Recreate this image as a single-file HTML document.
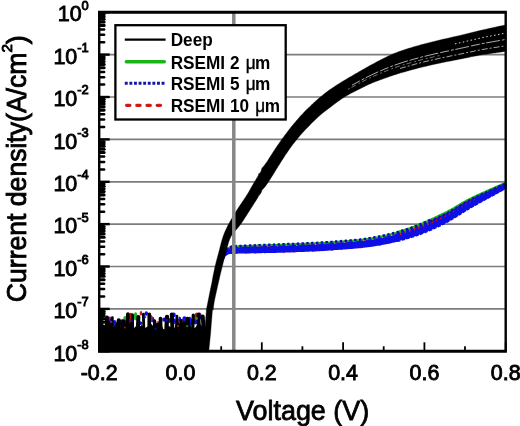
<!DOCTYPE html>
<html><head><meta charset="utf-8"><title>Current density vs Voltage</title>
<style>html,body{margin:0;padding:0;background:#fff}svg{display:block}text{font-family:"Liberation Sans",Arial,sans-serif;fill:#000}</style></head>
<body>
<svg width="520" height="426" viewBox="0 0 520 426">
<rect width="520" height="426" fill="#fff"/>
<line x1="99.2" x2="505.7" y1="54.6" y2="54.6" stroke="#7c7c7c" stroke-width="1.7"/>
<line x1="99.2" x2="505.7" y1="97.0" y2="97.0" stroke="#7c7c7c" stroke-width="1.7"/>
<line x1="99.2" x2="505.7" y1="139.4" y2="139.4" stroke="#7c7c7c" stroke-width="1.7"/>
<line x1="99.2" x2="505.7" y1="181.8" y2="181.8" stroke="#7c7c7c" stroke-width="1.7"/>
<line x1="99.2" x2="505.7" y1="224.1" y2="224.1" stroke="#7c7c7c" stroke-width="1.7"/>
<line x1="99.2" x2="505.7" y1="266.5" y2="266.5" stroke="#7c7c7c" stroke-width="1.7"/>
<line x1="99.2" x2="505.7" y1="308.9" y2="308.9" stroke="#7c7c7c" stroke-width="1.7"/>
<g stroke-linejoin="round" stroke-linecap="butt">
<polyline points="212.0,298.2 212.5,295.8 213.0,293.3 213.5,290.9 214.0,288.4 214.5,286.0 215.0,283.5 215.5,281.1 216.0,278.6 216.5,276.2 217.0,274.2 217.5,272.2 218.0,270.2 218.5,268.2 219.0,266.2 219.5,264.2 220.0,262.7 220.5,261.2 221.0,259.7 221.5,258.2 222.0,256.7 222.5,255.7 223.0,254.7 223.5,253.7 224.0,252.7 224.5,251.6 225.0,251.2 225.5,250.7 226.0,250.2 226.5,249.7 227.0,249.2 227.5,248.7 228.0,248.3 228.5,248.1 229.0,247.9 229.5,247.8 230.0,247.6 230.5,247.4 231.0,247.3 231.5,247.1 232.0,246.9 232.5,246.8 233.0,246.7 233.5,246.7 234.0,246.7 234.5,246.6 235.0,246.6 235.5,246.6 236.0,246.6 236.5,246.5 237.0,246.5 237.5,246.5 238.0,246.5 238.5,246.4 239.0,246.4 239.5,246.4 240.0,246.3 241.0,246.3 242.0,246.3 243.0,246.2 244.0,246.2 245.0,246.2 246.0,246.1 247.0,246.1 248.0,246.1 249.0,246.0 250.0,246.0 251.0,245.9 252.0,245.9 253.0,245.9 254.0,245.8 255.0,245.8 256.0,245.8 257.0,245.7 258.0,245.7 259.0,245.7 260.0,245.6 261.0,245.6 262.0,245.5 263.0,245.5 264.0,245.5 265.0,245.4 266.0,245.4 267.0,245.4 268.0,245.3 269.0,245.3 270.0,245.3 271.0,245.2 272.0,245.2 273.0,245.1 274.0,245.1 275.0,245.1 276.0,245.0 277.0,245.0 278.0,245.0 279.0,244.9 280.0,244.9 281.0,244.8 282.0,244.8 283.0,244.8 284.0,244.7 285.0,244.7 286.0,244.6 287.0,244.6 288.0,244.6 289.0,244.5 290.0,244.5 291.0,244.4 292.0,244.4 293.0,244.4 294.0,244.3 295.0,244.3 296.0,244.2 297.0,244.2 298.0,244.2 299.0,244.1 300.0,244.1 301.0,244.0 302.0,244.0 303.0,243.9 304.0,243.9 305.0,243.9 306.0,243.8 307.0,243.8 308.0,243.7 309.0,243.7 310.0,243.7 311.0,243.6 312.0,243.6 313.0,243.5 314.0,243.5 315.0,243.4 316.0,243.4 317.0,243.3 318.0,243.3 319.0,243.2 320.0,243.2 321.0,243.1 322.0,243.0 323.0,243.0 324.0,242.9 325.0,242.9 326.0,242.8 327.0,242.7 328.0,242.6 329.0,242.6 330.0,242.5 331.0,242.4 332.0,242.3 333.0,242.3 334.0,242.2 335.0,242.1 336.0,242.0 337.0,242.0 338.0,241.9 339.0,241.8 340.0,241.7 341.0,241.7 342.0,241.6 343.0,241.5 344.0,241.4 345.0,241.4 346.0,241.3 347.0,241.2 348.0,241.1 349.0,241.1 350.0,241.0 351.0,240.9 352.0,240.8 353.0,240.7 354.0,240.6 355.0,240.6 356.0,240.5 357.0,240.4 358.0,240.3 359.0,240.1 360.0,240.0 361.0,239.9 362.0,239.8 363.0,239.7 364.0,239.5 365.0,239.4 366.0,239.3 367.0,239.1 368.0,239.0 369.0,238.8 370.0,238.7 371.0,238.5 372.0,238.3 373.0,238.2 374.0,238.0 375.0,237.8 376.0,237.6 377.0,237.5 378.0,237.3 379.0,237.1 380.0,236.9 381.0,236.7 382.0,236.5 383.0,236.2 384.0,236.0 385.0,235.8 386.0,235.6 387.0,235.3 388.0,235.1 389.0,234.9 390.0,234.6 391.0,234.4 392.0,234.1 393.0,233.8 394.0,233.6 395.0,233.3 396.0,233.0 397.0,232.8 398.0,232.5 399.0,232.2 400.0,231.9 401.0,231.6 402.0,231.3 403.0,231.0 404.0,230.7 405.0,230.4 406.0,230.1 407.0,229.8 408.0,229.5 409.0,229.1 410.0,228.8 411.0,228.4 412.0,228.1 413.0,227.7 414.0,227.3 415.0,227.0 416.0,226.6 417.0,226.2 418.0,225.8 419.0,225.4 420.0,225.0 421.0,224.6 422.0,224.2 423.0,223.8 424.0,223.3 425.0,222.9 426.0,222.4 427.0,222.0 428.0,221.5 429.0,221.0 430.0,220.6 431.0,220.1 432.0,219.6 433.0,219.2 434.0,218.7 435.0,218.2 436.0,217.7 437.0,217.3 438.0,216.8 439.0,216.3 440.0,215.8 441.0,215.4 442.0,214.9 443.0,214.4 444.0,213.9 445.0,213.5 446.0,213.0 447.0,212.5 448.0,211.9 449.0,211.4 450.0,210.9 451.0,210.3 452.0,209.8 453.0,209.2 454.0,208.7 455.0,208.1 456.0,207.5 457.0,206.9 458.0,206.3 459.0,205.7 460.0,205.1 461.0,204.4 462.0,203.9 463.0,203.3 464.0,202.7 465.0,202.1 466.0,201.6 467.0,201.0 468.0,200.5 469.0,199.9 470.0,199.4 471.0,198.9 472.0,198.4 473.0,197.9 474.0,197.4 475.0,196.9 476.0,196.5 477.0,196.0 478.0,195.6 479.0,195.1 480.0,194.6 481.0,194.2 482.0,193.7 483.0,193.3 484.0,192.8 485.0,192.4 486.0,191.9 487.0,191.5 488.0,191.0 489.0,190.6 490.0,190.1 491.0,189.7 492.0,189.2 493.0,188.8 494.0,188.4 495.0,187.9 496.0,187.5 497.0,187.0 498.0,186.6 499.0,186.1 500.0,185.7 501.0,185.3 502.0,184.8 503.0,184.4 504.0,183.9 505.0,183.5 506.0,183.0" fill="none" stroke="#19b519" stroke-width="2.2" />
<polyline points="226.0,251.3 226.5,250.9 227.0,250.4 227.5,250.0 228.0,249.6 228.5,249.4 229.0,249.3 229.5,249.2 230.0,249.0 230.5,248.9 231.0,248.8 231.5,248.7 232.0,248.5 232.5,248.4 233.0,248.3 233.5,248.3 234.0,248.3 234.5,248.2 235.0,248.2 235.5,248.2 236.0,248.2 236.5,248.2 237.0,248.1 237.5,248.1 238.0,248.1 238.5,248.1 239.0,248.0 239.5,248.0 240.0,248.0 241.0,248.0 242.0,247.9 243.0,247.9 244.0,247.9 245.0,247.8 246.0,247.8 247.0,247.8 248.0,247.7 249.0,247.7 250.0,247.7 251.0,247.6 252.0,247.6 253.0,247.6 254.0,247.5 255.0,247.5 256.0,247.5 257.0,247.5 258.0,247.4 259.0,247.4 260.0,247.4 261.0,247.3 262.0,247.3 263.0,247.3 264.0,247.2 265.0,247.2 266.0,247.2 267.0,247.1 268.0,247.1 269.0,247.1 270.0,247.0 271.0,247.0 272.0,247.0 273.0,246.9 274.0,246.9 275.0,246.9 276.0,246.8 277.0,246.8 278.0,246.8 279.0,246.7 280.0,246.7 281.0,246.7 282.0,246.6 283.0,246.6 284.0,246.6 285.0,246.5 286.0,246.5 287.0,246.4 288.0,246.4 289.0,246.4 290.0,246.3 291.0,246.3 292.0,246.2 293.0,246.2 294.0,246.2 295.0,246.1 296.0,246.1 297.0,246.0 298.0,246.0 299.0,246.0 300.0,245.9 301.0,245.9 302.0,245.8 303.0,245.8 304.0,245.8 305.0,245.7 306.0,245.7 307.0,245.6 308.0,245.6 309.0,245.6 310.0,245.5 311.0,245.5 312.0,245.4 313.0,245.4 314.0,245.3 315.0,245.3 316.0,245.2 317.0,245.2 318.0,245.1 319.0,245.1 320.0,245.0 321.0,245.0 322.0,244.9 323.0,244.8 324.0,244.8 325.0,244.7 326.0,244.6 327.0,244.6 328.0,244.5 329.0,244.4 330.0,244.4 331.0,244.3 332.0,244.2 333.0,244.1 334.0,244.1 335.0,244.0 336.0,243.9 337.0,243.8 338.0,243.8 339.0,243.7 340.0,243.6 341.0,243.5 342.0,243.5 343.0,243.4 344.0,243.3 345.0,243.2 346.0,243.2 347.0,243.1 348.0,243.0 349.0,242.9 350.0,242.9 351.0,242.8 352.0,242.7 353.0,242.6 354.0,242.5 355.0,242.4 356.0,242.3 357.0,242.2 358.0,242.1 359.0,242.0 360.0,241.9 361.0,241.8 362.0,241.7 363.0,241.6 364.0,241.4 365.0,241.3 366.0,241.2 367.0,241.0 368.0,240.9 369.0,240.7 370.0,240.6 371.0,240.4 372.0,240.3 373.0,240.1 374.0,240.0 375.0,239.8 376.0,239.6 377.0,239.4 378.0,239.3 379.0,239.1 380.0,238.9 381.0,238.7 382.0,238.5 383.0,238.3 384.0,238.1 385.0,237.8 386.0,237.6 387.0,237.4 388.0,237.2 389.0,236.9 390.0,236.7 391.0,236.4 392.0,236.2 393.0,235.9 394.0,235.7 395.0,235.4 396.0,235.2 397.0,234.9 398.0,234.6" fill="none" stroke="#d01818" stroke-width="2.0" stroke-dasharray="3.2 1.6"/>
<polyline points="397.0,235.1 398.0,234.9 399.0,234.6 400.0,234.3 401.0,234.0 402.0,233.7 403.0,233.4 404.0,233.2 405.0,232.9 406.0,232.5 407.0,232.2 408.0,231.9 409.0,231.6 410.0,231.3 411.0,230.9 412.0,230.6 413.0,230.2 414.0,229.9 415.0,229.5 416.0,229.1 417.0,228.8 418.0,228.4 419.0,228.0 420.0,227.6 421.0,227.2 422.0,226.8 423.0,226.4 424.0,225.9 425.0,225.5 426.0,225.1 427.0,224.6 428.0,224.2 429.0,223.7 430.0,223.3 431.0,222.8 432.0,222.3 433.0,221.9 434.0,221.4 435.0,220.9 436.0,220.5 437.0,220.0 438.0,219.5 439.0,219.0 440.0,218.6 441.0,218.1 442.0,217.6 443.0,217.1 444.0,216.7 445.0,216.1 446.0,215.6 447.0,215.1 448.0,214.6 449.0,214.1 450.0,213.5 451.0,213.0 452.0,212.4 453.0,211.8 454.0,211.3 455.0,210.7 456.0,210.1 457.0,209.5 458.0,208.8 459.0,208.2 460.0,207.6 461.0,207.0 462.0,206.4 463.0,205.8 464.0,205.2 465.0,204.6 466.0,204.0 467.0,203.5 468.0,202.9 469.0,202.4 470.0,201.8 471.0,201.3 472.0,200.7 473.0,200.2 474.0,199.7 475.0,199.2 476.0,198.7 477.0,198.2 478.0,197.7 479.0,197.3 480.0,196.8 481.0,196.3 482.0,195.8 483.0,195.3 484.0,194.8 485.0,194.4 486.0,193.9 487.0,193.4 488.0,192.9 489.0,192.5 490.0,192.0 491.0,191.5 492.0,191.0 493.0,190.6 494.0,190.1 495.0,189.6 496.0,189.1 497.0,188.7 498.0,188.2 499.0,187.7 500.0,187.3 501.0,186.8 502.0,186.3 503.0,185.8 504.0,185.4 505.0,184.9 506.0,184.4" fill="none" stroke="#d01818" stroke-width="4.2" />
<polyline points="226.0,254.7 226.5,254.4 227.0,254.1 227.5,253.7 228.0,253.4 228.5,253.4 229.0,253.4 229.5,253.3 230.0,253.3 230.5,253.3 231.0,253.3 231.5,253.3 232.0,253.2 232.5,253.1 233.0,253.1 233.5,253.0 234.0,253.0 234.5,253.0 235.0,253.0 235.5,253.0 236.0,253.0 236.5,252.9 237.0,252.9 237.5,252.9 238.0,252.9 238.5,252.9 239.0,252.9 239.5,252.8 240.0,252.8 241.0,252.8 242.0,252.8 243.0,252.8 244.0,252.8 245.0,252.7 246.0,252.7 247.0,252.7 248.0,252.7 249.0,252.7 250.0,252.7 251.0,252.6 252.0,252.6 253.0,252.6 254.0,252.6 255.0,252.6 256.0,252.6 257.0,252.5 258.0,252.5 259.0,252.5 260.0,252.5 261.0,252.5 262.0,252.5 263.0,252.4 264.0,252.4 265.0,252.4 266.0,252.4 267.0,252.4 268.0,252.4 269.0,252.3 270.0,252.3 271.0,252.3 272.0,252.3 273.0,252.3 274.0,252.2 275.0,252.2 276.0,252.2 277.0,252.2 278.0,252.2 279.0,252.1 280.0,252.1 281.0,252.1 282.0,252.0 283.0,252.0 284.0,252.0 285.0,251.9 286.0,251.9 287.0,251.9 288.0,251.8 289.0,251.8 290.0,251.8 291.0,251.7 292.0,251.7 293.0,251.6 294.0,251.6 295.0,251.6 296.0,251.5 297.0,251.5 298.0,251.5 299.0,251.4 300.0,251.4 301.0,251.3 302.0,251.3 303.0,251.3 304.0,251.2 305.0,251.2 306.0,251.1 307.0,251.1 308.0,251.1 309.0,251.0 310.0,251.0 311.0,250.9 312.0,250.9 313.0,250.9 314.0,250.8 315.0,250.8 316.0,250.7 317.0,250.7 318.0,250.6 319.0,250.6 320.0,250.5 321.0,250.5 322.0,250.4 323.0,250.3 324.0,250.3 325.0,250.2 326.0,250.1 327.0,250.1 328.0,250.0 329.0,249.9 330.0,249.9 331.0,249.8 332.0,249.7 333.0,249.6 334.0,249.6 335.0,249.5 336.0,249.4 337.0,249.3 338.0,249.3 339.0,249.2 340.0,249.1 341.0,249.0 342.0,249.0 343.0,248.9 344.0,248.8 345.0,248.8 346.0,248.7 347.0,248.6 348.0,248.5 349.0,248.5 350.0,248.4 351.0,248.3 352.0,248.2 353.0,248.2 354.0,248.1 355.0,248.0 356.0,247.9 357.0,247.8 358.0,247.7 359.0,247.6 360.0,247.5 361.0,247.4 362.0,247.3 363.0,247.2 364.0,247.1 365.0,247.0 366.0,246.8 367.0,246.7 368.0,246.6 369.0,246.5 370.0,246.3 371.0,246.2 372.0,246.1 373.0,245.9 374.0,245.8 375.0,245.6 376.0,245.5 377.0,245.3 378.0,245.1 379.0,245.0 380.0,244.8 381.0,244.6 382.0,244.4 383.0,244.3 384.0,244.1 385.0,243.9 386.0,243.7 387.0,243.5 388.0,243.3 389.0,243.0 390.0,242.8 391.0,242.6 392.0,242.4 393.0,242.2 394.0,241.9 395.0,241.7 396.0,241.5 397.0,241.2 398.0,241.0 399.0,240.7 400.0,240.5" fill="none" stroke="#d01818" stroke-width="1.6" stroke-dasharray="2 7.6"/>
<polyline points="212.0,299.6 212.5,297.2 213.0,294.7 213.5,292.3 214.0,289.8 214.5,287.4 215.0,284.9 215.5,282.5 216.0,280.0 216.5,277.6 217.0,275.6 217.5,273.6 218.0,271.6 218.5,269.6 219.0,267.6 219.5,265.6 220.0,264.1 220.5,262.6 221.0,261.1 221.5,259.6 222.0,258.1 222.5,257.1 223.0,256.1 223.5,255.1 224.0,254.1 224.5,253.1 225.0,252.7 225.5,252.2 226.0,251.8 226.5,251.4 227.0,250.9 227.5,250.5 228.0,250.1 228.5,250.0 229.0,249.8 229.5,249.7 230.0,249.6 230.5,249.5 231.0,249.4 231.5,249.3 232.0,249.2 232.5,249.1 233.0,249.0 233.5,248.9 234.0,248.9 234.5,248.9 235.0,248.9 235.5,248.8 236.0,248.8 236.5,248.8 237.0,248.8 237.5,248.8 238.0,248.7 238.5,248.7 239.0,248.7 239.5,248.7 240.0,248.6 241.0,248.6 242.0,248.6 243.0,248.6 244.0,248.5 245.0,248.5 246.0,248.5 247.0,248.4 248.0,248.4 249.0,248.4 250.0,248.3 251.0,248.3 252.0,248.3 253.0,248.3 254.0,248.2 255.0,248.2 256.0,248.2 257.0,248.1 258.0,248.1 259.0,248.1 260.0,248.1 261.0,248.0 262.0,248.0 263.0,248.0 264.0,247.9 265.0,247.9 266.0,247.9 267.0,247.8 268.0,247.8 269.0,247.8 270.0,247.8 271.0,247.7 272.0,247.7 273.0,247.7 274.0,247.6 275.0,247.6 276.0,247.6 277.0,247.5 278.0,247.5 279.0,247.5 280.0,247.4 281.0,247.4 282.0,247.4 283.0,247.3 284.0,247.3 285.0,247.3 286.0,247.2 287.0,247.2 288.0,247.1 289.0,247.1 290.0,247.1 291.0,247.0 292.0,247.0 293.0,246.9 294.0,246.9 295.0,246.9 296.0,246.8 297.0,246.8 298.0,246.7 299.0,246.7 300.0,246.7 301.0,246.6 302.0,246.6 303.0,246.5 304.0,246.5 305.0,246.5 306.0,246.4 307.0,246.4 308.0,246.3 309.0,246.3 310.0,246.3 311.0,246.2 312.0,246.2 313.0,246.1 314.0,246.1 315.0,246.0 316.0,246.0 317.0,245.9 318.0,245.9 319.0,245.8 320.0,245.8 321.0,245.7 322.0,245.7 323.0,245.6 324.0,245.5 325.0,245.5 326.0,245.4 327.0,245.3 328.0,245.3 329.0,245.2 330.0,245.1 331.0,245.0 332.0,245.0 333.0,244.9 334.0,244.8 335.0,244.7 336.0,244.7 337.0,244.6 338.0,244.5 339.0,244.4 340.0,244.4 341.0,244.3 342.0,244.2 343.0,244.1 344.0,244.1 345.0,244.0 346.0,243.9 347.0,243.8 348.0,243.8 349.0,243.7 350.0,243.6 351.0,243.5 352.0,243.4 353.0,243.4 354.0,243.3 355.0,243.2 356.0,243.1 357.0,243.0 358.0,242.9 359.0,242.8 360.0,242.7 361.0,242.6 362.0,242.4 363.0,242.3 364.0,242.2 365.0,242.1 366.0,241.9 367.0,241.8 368.0,241.7 369.0,241.5 370.0,241.4 371.0,241.2 372.0,241.1 373.0,240.9 374.0,240.8 375.0,240.6 376.0,240.4 377.0,240.2 378.0,240.1 379.0,239.9 380.0,239.7 381.0,239.5 382.0,239.3 383.0,239.1 384.0,238.9 385.0,238.7 386.0,238.4 387.0,238.2 388.0,238.0 389.0,237.8 390.0,237.5 391.0,237.3 392.0,237.0 393.0,236.8 394.0,236.5 395.0,236.3 396.0,236.0 397.0,235.8 398.0,235.5" fill="none" stroke="#0e0ee6" stroke-width="2.6" />
<polyline points="212.0,300.4 212.5,298.0 213.0,295.5 213.5,293.1 214.0,290.6 214.5,288.2 215.0,285.7 215.5,283.3 216.0,280.8 216.5,278.4 217.0,276.4 217.5,274.4 218.0,272.4 218.5,270.4 219.0,268.4 219.5,266.4 220.0,264.9 220.5,263.4 221.0,261.9 221.5,260.4 222.0,258.9 222.5,257.9 223.0,256.9 223.5,255.9 224.0,254.9 224.5,253.9 225.0,253.5 225.5,253.1 226.0,252.7 226.5,252.3 227.0,251.9 227.5,251.5 228.0,251.1 228.5,251.0 229.0,251.0 229.5,250.9 230.0,250.8 230.5,250.7 231.0,250.6 231.5,250.5 232.0,250.4 232.5,250.3 233.0,250.2 233.5,250.2 234.0,250.2 234.5,250.2 235.0,250.2 235.5,250.1 236.0,250.1 236.5,250.1 237.0,250.1 237.5,250.1 238.0,250.0 238.5,250.0 239.0,250.0 239.5,250.0 240.0,250.0 241.0,249.9 242.0,249.9 243.0,249.9 244.0,249.9 245.0,249.8 246.0,249.8 247.0,249.8 248.0,249.8 249.0,249.7 250.0,249.7 251.0,249.7 252.0,249.7 253.0,249.6 254.0,249.6 255.0,249.6 256.0,249.5 257.0,249.5 258.0,249.5 259.0,249.5 260.0,249.4 261.0,249.4 262.0,249.4 263.0,249.4 264.0,249.3 265.0,249.3 266.0,249.3 267.0,249.3 268.0,249.2 269.0,249.2 270.0,249.2 271.0,249.2 272.0,249.1 273.0,249.1 274.0,249.1 275.0,249.1 276.0,249.0 277.0,249.0 278.0,249.0 279.0,248.9 280.0,248.9 281.0,248.9 282.0,248.8 283.0,248.8 284.0,248.8 285.0,248.7 286.0,248.7 287.0,248.7 288.0,248.6 289.0,248.6 290.0,248.5 291.0,248.5 292.0,248.5 293.0,248.4 294.0,248.4 295.0,248.3 296.0,248.3 297.0,248.3 298.0,248.2 299.0,248.2 300.0,248.1 301.0,248.1 302.0,248.1 303.0,248.0 304.0,248.0 305.0,247.9 306.0,247.9 307.0,247.9 308.0,247.8 309.0,247.8 310.0,247.7 311.0,247.7 312.0,247.7 313.0,247.6 314.0,247.6 315.0,247.5 316.0,247.5 317.0,247.4 318.0,247.4 319.0,247.3 320.0,247.3 321.0,247.2 322.0,247.1 323.0,247.1 324.0,247.0 325.0,247.0 326.0,246.9 327.0,246.8 328.0,246.7 329.0,246.7 330.0,246.6 331.0,246.5 332.0,246.4 333.0,246.4 334.0,246.3 335.0,246.2 336.0,246.1 337.0,246.1 338.0,246.0 339.0,245.9 340.0,245.8 341.0,245.8 342.0,245.7 343.0,245.6 344.0,245.5 345.0,245.5 346.0,245.4 347.0,245.3 348.0,245.2 349.0,245.2 350.0,245.1 351.0,245.0 352.0,244.9 353.0,244.9 354.0,244.8 355.0,244.7 356.0,244.6 357.0,244.5 358.0,244.4 359.0,244.3 360.0,244.2 361.0,244.1 362.0,244.0 363.0,243.8 364.0,243.7 365.0,243.6 366.0,243.5 367.0,243.3 368.0,243.2 369.0,243.1 370.0,242.9 371.0,242.8 372.0,242.6 373.0,242.5 374.0,242.3 375.0,242.2 376.0,242.0 377.0,241.8 378.0,241.7 379.0,241.5 380.0,241.3 381.0,241.1 382.0,240.9 383.0,240.7 384.0,240.5 385.0,240.3 386.0,240.1 387.0,239.9 388.0,239.6 389.0,239.4 390.0,239.2 391.0,239.0 392.0,238.7 393.0,238.5 394.0,238.2 395.0,238.0 396.0,237.7 397.0,237.5 398.0,237.2" fill="none" stroke="#0e0ee6" stroke-width="2.6" />
<polyline points="212.0,301.2 212.5,298.8 213.0,296.3 213.5,293.9 214.0,291.4 214.5,289.0 215.0,286.5 215.5,284.1 216.0,281.6 216.5,279.2 217.0,277.2 217.5,275.2 218.0,273.2 218.5,271.2 219.0,269.2 219.5,267.2 220.0,265.7 220.5,264.2 221.0,262.7 221.5,261.2 222.0,259.7 222.5,258.7 223.0,257.7 223.5,256.7 224.0,255.7 224.5,254.7 225.0,254.4 225.5,254.0 226.0,253.6 226.5,253.3 227.0,252.9 227.5,252.5 228.0,252.2 228.5,252.1 229.0,252.1 229.5,252.0 230.0,251.9 230.5,251.9 231.0,251.8 231.5,251.8 232.0,251.7 232.5,251.6 233.0,251.5 233.5,251.5 234.0,251.5 234.5,251.5 235.0,251.5 235.5,251.4 236.0,251.4 236.5,251.4 237.0,251.4 237.5,251.4 238.0,251.3 238.5,251.3 239.0,251.3 239.5,251.3 240.0,251.3 241.0,251.2 242.0,251.2 243.0,251.2 244.0,251.2 245.0,251.2 246.0,251.1 247.0,251.1 248.0,251.1 249.0,251.1 250.0,251.1 251.0,251.0 252.0,251.0 253.0,251.0 254.0,251.0 255.0,250.9 256.0,250.9 257.0,250.9 258.0,250.9 259.0,250.9 260.0,250.8 261.0,250.8 262.0,250.8 263.0,250.8 264.0,250.8 265.0,250.7 266.0,250.7 267.0,250.7 268.0,250.7 269.0,250.6 270.0,250.6 271.0,250.6 272.0,250.6 273.0,250.6 274.0,250.5 275.0,250.5 276.0,250.5 277.0,250.5 278.0,250.4 279.0,250.4 280.0,250.4 281.0,250.3 282.0,250.3 283.0,250.3 284.0,250.2 285.0,250.2 286.0,250.2 287.0,250.1 288.0,250.1 289.0,250.1 290.0,250.0 291.0,250.0 292.0,249.9 293.0,249.9 294.0,249.9 295.0,249.8 296.0,249.8 297.0,249.7 298.0,249.7 299.0,249.7 300.0,249.6 301.0,249.6 302.0,249.5 303.0,249.5 304.0,249.5 305.0,249.4 306.0,249.4 307.0,249.3 308.0,249.3 309.0,249.3 310.0,249.2 311.0,249.2 312.0,249.1 313.0,249.1 314.0,249.1 315.0,249.0 316.0,249.0 317.0,248.9 318.0,248.9 319.0,248.8 320.0,248.7 321.0,248.7 322.0,248.6 323.0,248.6 324.0,248.5 325.0,248.4 326.0,248.4 327.0,248.3 328.0,248.2 329.0,248.2 330.0,248.1 331.0,248.0 332.0,247.9 333.0,247.9 334.0,247.8 335.0,247.7 336.0,247.6 337.0,247.6 338.0,247.5 339.0,247.4 340.0,247.3 341.0,247.3 342.0,247.2 343.0,247.1 344.0,247.0 345.0,247.0 346.0,246.9 347.0,246.8 348.0,246.7 349.0,246.7 350.0,246.6 351.0,246.5 352.0,246.4 353.0,246.4 354.0,246.3 355.0,246.2 356.0,246.1 357.0,246.0 358.0,245.9 359.0,245.8 360.0,245.7 361.0,245.6 362.0,245.5 363.0,245.4 364.0,245.3 365.0,245.1 366.0,245.0 367.0,244.9 368.0,244.8 369.0,244.6 370.0,244.5 371.0,244.3 372.0,244.2 373.0,244.1 374.0,243.9 375.0,243.7 376.0,243.6 377.0,243.4 378.0,243.2 379.0,243.1 380.0,242.9 381.0,242.7 382.0,242.5 383.0,242.3 384.0,242.1 385.0,241.9 386.0,241.7 387.0,241.5 388.0,241.3 389.0,241.1 390.0,240.8 391.0,240.6 392.0,240.4 393.0,240.2 394.0,239.9 395.0,239.7 396.0,239.4 397.0,239.2 398.0,238.9" fill="none" stroke="#0e0ee6" stroke-width="2.6" />
<polyline points="212.0,301.8 212.5,299.4 213.0,296.9 213.5,294.5 214.0,292.0 214.5,289.6 215.0,287.1 215.5,284.7 216.0,282.2 216.5,279.8 217.0,277.8 217.5,275.8 218.0,273.8 218.5,271.8 219.0,269.8 219.5,267.8 220.0,266.3 220.5,264.8 221.0,263.3 221.5,261.8 222.0,260.3 222.5,259.3 223.0,258.3 223.5,257.3 224.0,256.3 224.5,255.4 225.0,255.0 225.5,254.7 226.0,254.3 226.5,254.0 227.0,253.6 227.5,253.3 228.0,252.9 228.5,252.9 229.0,252.9 229.5,252.8 230.0,252.8 230.5,252.8 231.0,252.7 231.5,252.7 232.0,252.7 232.5,252.6 233.0,252.5 233.5,252.5 234.0,252.5 234.5,252.4 235.0,252.4 235.5,252.4 236.0,252.4 236.5,252.4 237.0,252.4 237.5,252.3 238.0,252.3 238.5,252.3 239.0,252.3 239.5,252.3 240.0,252.3 241.0,252.2 242.0,252.2 243.0,252.2 244.0,252.2 245.0,252.2 246.0,252.1 247.0,252.1 248.0,252.1 249.0,252.1 250.0,252.1 251.0,252.0 252.0,252.0 253.0,252.0 254.0,252.0 255.0,252.0 256.0,252.0 257.0,251.9 258.0,251.9 259.0,251.9 260.0,251.9 261.0,251.9 262.0,251.8 263.0,251.8 264.0,251.8 265.0,251.8 266.0,251.8 267.0,251.8 268.0,251.7 269.0,251.7 270.0,251.7 271.0,251.7 272.0,251.7 273.0,251.6 274.0,251.6 275.0,251.6 276.0,251.6 277.0,251.5 278.0,251.5 279.0,251.5 280.0,251.5 281.0,251.4 282.0,251.4 283.0,251.4 284.0,251.3 285.0,251.3 286.0,251.3 287.0,251.2 288.0,251.2 289.0,251.2 290.0,251.1 291.0,251.1 292.0,251.0 293.0,251.0 294.0,251.0 295.0,250.9 296.0,250.9 297.0,250.8 298.0,250.8 299.0,250.8 300.0,250.7 301.0,250.7 302.0,250.7 303.0,250.6 304.0,250.6 305.0,250.5 306.0,250.5 307.0,250.5 308.0,250.4 309.0,250.4 310.0,250.3 311.0,250.3 312.0,250.3 313.0,250.2 314.0,250.2 315.0,250.1 316.0,250.1 317.0,250.0 318.0,250.0 319.0,249.9 320.0,249.9 321.0,249.8 322.0,249.7 323.0,249.7 324.0,249.6 325.0,249.6 326.0,249.5 327.0,249.4 328.0,249.4 329.0,249.3 330.0,249.2 331.0,249.1 332.0,249.1 333.0,249.0 334.0,248.9 335.0,248.8 336.0,248.8 337.0,248.7 338.0,248.6 339.0,248.5 340.0,248.5 341.0,248.4 342.0,248.3 343.0,248.2 344.0,248.2 345.0,248.1 346.0,248.0 347.0,247.9 348.0,247.9 349.0,247.8 350.0,247.7 351.0,247.7 352.0,247.6 353.0,247.5 354.0,247.4 355.0,247.3 356.0,247.2 357.0,247.1 358.0,247.0 359.0,246.9 360.0,246.8 361.0,246.7 362.0,246.6 363.0,246.5 364.0,246.4 365.0,246.3 366.0,246.2 367.0,246.0 368.0,245.9 369.0,245.8 370.0,245.6 371.0,245.5 372.0,245.4 373.0,245.2 374.0,245.1 375.0,244.9 376.0,244.8 377.0,244.6 378.0,244.4 379.0,244.3 380.0,244.1 381.0,243.9 382.0,243.7 383.0,243.5 384.0,243.3 385.0,243.2 386.0,242.9 387.0,242.7 388.0,242.5 389.0,242.3 390.0,242.1 391.0,241.9 392.0,241.6 393.0,241.4 394.0,241.2 395.0,240.9 396.0,240.7 397.0,240.5 398.0,240.2" fill="none" stroke="#0e0ee6" stroke-width="2.6" />
<polyline points="212.0,299.1 212.5,296.7 213.0,294.3 213.5,291.8 214.0,289.4 214.5,286.9 215.0,284.5 215.5,282.0 216.0,279.6 216.5,277.1 217.0,275.1 217.5,273.1 218.0,271.1 218.5,269.1 219.0,267.1 219.5,265.1 220.0,263.6 220.5,262.1 221.0,260.6 221.5,259.1 222.0,257.6 222.5,256.6 223.0,255.7 223.5,254.7 224.0,253.7 224.5,252.6 225.0,252.2 225.5,251.7 226.0,251.3 226.5,250.8 227.0,250.4 227.5,249.9 228.0,249.5 228.5,249.4 229.0,249.2 229.5,249.1 230.0,249.0 230.5,248.8 231.0,248.7 231.5,248.6 232.0,248.4 232.5,248.3 233.0,248.2 233.5,248.2 234.0,248.2 234.5,248.2 235.0,248.1 235.5,248.1 236.0,248.1 236.5,248.1 237.0,248.0 237.5,248.0 238.0,248.0 238.5,248.0 239.0,248.0 239.5,247.9 240.0,247.9 241.0,247.9 242.0,247.8 243.0,247.8 244.0,247.8 245.0,247.7 246.0,247.7 247.0,247.7 248.0,247.7 249.0,247.6 250.0,247.6 251.0,247.6 252.0,247.5 253.0,247.5 254.0,247.5 255.0,247.4 256.0,247.4 257.0,247.4 258.0,247.3 259.0,247.3 260.0,247.3 261.0,247.2 262.0,247.2 263.0,247.2 264.0,247.1 265.0,247.1 266.0,247.1 267.0,247.0 268.0,247.0 269.0,247.0 270.0,247.0 271.0,246.9 272.0,246.9 273.0,246.9 274.0,246.8 275.0,246.8 276.0,246.8 277.0,246.7 278.0,246.7 279.0,246.7 280.0,246.6 281.0,246.6 282.0,246.5 283.0,246.5 284.0,246.5 285.0,246.4 286.0,246.4 287.0,246.4 288.0,246.3 289.0,246.3 290.0,246.2 291.0,246.2 292.0,246.2 293.0,246.1 294.0,246.1 295.0,246.0 296.0,246.0 297.0,245.9 298.0,245.9 299.0,245.9 300.0,245.8 301.0,245.8 302.0,245.7 303.0,245.7 304.0,245.7 305.0,245.6 306.0,245.6 307.0,245.5 308.0,245.5 309.0,245.5 310.0,245.4 311.0,245.4 312.0,245.3 313.0,245.3 314.0,245.3 315.0,245.2 316.0,245.2 317.0,245.1 318.0,245.0 319.0,245.0 320.0,244.9 321.0,244.9 322.0,244.8 323.0,244.8 324.0,244.7 325.0,244.6 326.0,244.6 327.0,244.5 328.0,244.4 329.0,244.3 330.0,244.3 331.0,244.2 332.0,244.1 333.0,244.0 334.0,244.0 335.0,243.9 336.0,243.8 337.0,243.7 338.0,243.7 339.0,243.6 340.0,243.5 341.0,243.4 342.0,243.4 343.0,243.3 344.0,243.2 345.0,243.1 346.0,243.1 347.0,243.0 348.0,242.9 349.0,242.8 350.0,242.8 351.0,242.7 352.0,242.6 353.0,242.5 354.0,242.4 355.0,242.3 356.0,242.2 357.0,242.1 358.0,242.0 359.0,241.9 360.0,241.8 361.0,241.7 362.0,241.6 363.0,241.5 364.0,241.3 365.0,241.2 366.0,241.1 367.0,240.9 368.0,240.8 369.0,240.7 370.0,240.5 371.0,240.4 372.0,240.2 373.0,240.0 374.0,239.9 375.0,239.7 376.0,239.5 377.0,239.3 378.0,239.2 379.0,239.0 380.0,238.8 381.0,238.6 382.0,238.4 383.0,238.2 384.0,238.0 385.0,237.7 386.0,237.5 387.0,237.3 388.0,237.1 389.0,236.8 390.0,236.6 391.0,236.3 392.0,236.1 393.0,235.8 394.0,235.6 395.0,235.3 396.0,235.1 397.0,234.8 398.0,234.5" fill="none" stroke="#0e0ee6" stroke-width="2.0" stroke-dasharray="6 3.6"/>
<polyline points="397.0,232.3 398.0,232.1 399.0,231.8 400.0,231.5 401.0,231.2 402.0,230.9 403.0,230.6 404.0,230.3 405.0,230.0 406.0,229.7 407.0,229.4 408.0,229.0 409.0,228.7 410.0,228.3 411.0,228.0 412.0,227.6 413.0,227.3 414.0,226.9 415.0,226.5 416.0,226.1 417.0,225.8 418.0,225.4 419.0,225.0 420.0,224.6 421.0,224.1 422.0,223.7 423.0,223.3 424.0,222.8 425.0,222.4 426.0,221.9 427.0,221.5 428.0,221.0 429.0,220.5 430.0,220.1 431.0,219.6 432.0,219.1 433.0,218.7 434.0,218.2 435.0,217.7 436.0,217.2 437.0,216.8 438.0,216.3 439.0,215.8 440.0,215.3 441.0,214.9 442.0,214.4 443.0,213.9 444.0,213.5 445.0,213.0 446.0,212.5 447.0,212.0 448.0,211.5 449.0,210.9 450.0,210.4 451.0,209.9 452.0,209.3 453.0,208.8 454.0,208.2 455.0,207.6 456.0,207.0 457.0,206.4 458.0,205.8 459.0,205.2 460.0,204.6 461.0,204.0 462.0,203.4 463.0,202.8 464.0,202.2 465.0,201.7 466.0,201.1 467.0,200.6 468.0,200.0 469.0,199.5 470.0,199.0 471.0,198.5 472.0,198.0 473.0,197.5 474.0,197.0 475.0,196.5 476.0,196.1 477.0,195.6 478.0,195.2 479.0,194.7 480.0,194.3 481.0,193.8 482.0,193.4 483.0,192.9 484.0,192.5 485.0,192.0 486.0,191.6 487.0,191.1 488.0,190.7 489.0,190.2 490.0,189.8 491.0,189.4 492.0,188.9 493.0,188.5 494.0,188.0 495.0,187.6 496.0,187.2 497.0,186.7 498.0,186.3 499.0,185.9 500.0,185.4 501.0,185.0 502.0,184.5 503.0,184.1 504.0,183.7 505.0,183.2 506.0,182.7" fill="none" stroke="#19b519" stroke-width="2.4" />
<polyline points="397.0,234.1 398.0,233.8 399.0,233.5 400.0,233.2 401.0,232.9 402.0,232.6 403.0,232.4 404.0,232.1 405.0,231.8 406.0,231.4 407.0,231.1 408.0,230.8 409.0,230.5 410.0,230.1 411.0,229.8 412.0,229.4 413.0,229.1 414.0,228.7 415.0,228.3 416.0,228.0 417.0,227.6 418.0,227.2 419.0,226.8 420.0,226.4 421.0,226.0 422.0,225.6 423.0,225.2 424.0,224.8 425.0,224.3 426.0,223.9 427.0,223.4 428.0,223.0 429.0,222.5 430.0,222.0 431.0,221.6 432.0,221.1 433.0,220.6 434.0,220.2 435.0,219.7 436.0,219.2 437.0,218.7 438.0,218.3 439.0,217.8 440.0,217.3 441.0,216.9 442.0,216.4 443.0,215.9 444.0,215.4 445.0,214.9 446.0,214.4 447.0,213.9 448.0,213.4 449.0,212.9 450.0,212.3 451.0,211.8 452.0,211.2 453.0,210.7 454.0,210.1 455.0,209.5 456.0,208.9 457.0,208.3 458.0,207.7 459.0,207.1 460.0,206.4 461.0,205.8 462.0,205.2 463.0,204.6 464.0,204.0 465.0,203.5 466.0,202.9 467.0,202.3 468.0,201.8 469.0,201.3 470.0,200.7 471.0,200.2 472.0,199.7 473.0,199.2 474.0,198.7 475.0,198.2 476.0,197.7 477.0,197.2 478.0,196.8 479.0,196.3 480.0,195.8 481.0,195.3 482.0,194.9 483.0,194.4 484.0,193.9 485.0,193.5 486.0,193.0 487.0,192.5 488.0,192.1 489.0,191.6 490.0,191.1 491.0,190.7 492.0,190.2 493.0,189.8 494.0,189.3 495.0,188.8 496.0,188.4 497.0,187.9 498.0,187.5 499.0,187.0 500.0,186.6 501.0,186.1 502.0,185.6 503.0,185.2 504.0,184.7 505.0,184.2 506.0,183.8" fill="none" stroke="#0e0ee6" stroke-width="2.4" stroke-dasharray="2.9 1.9"/>
<polyline points="397.0,235.6 398.0,235.3 399.0,235.0 400.0,234.7 401.0,234.5 402.0,234.2 403.0,233.9 404.0,233.6 405.0,233.3 406.0,233.0 407.0,232.7 408.0,232.4 409.0,232.0 410.0,231.7 411.0,231.4 412.0,231.0 413.0,230.7 414.0,230.3 415.0,230.0 416.0,229.6 417.0,229.2 418.0,228.8 419.0,228.5 420.0,228.1 421.0,227.7 422.0,227.3 423.0,226.8 424.0,226.4 425.0,226.0 426.0,225.6 427.0,225.1 428.0,224.7 429.0,224.2 430.0,223.8 431.0,223.3 432.0,222.8 433.0,222.4 434.0,221.9 435.0,221.4 436.0,221.0 437.0,220.5 438.0,220.0 439.0,219.5 440.0,219.1 441.0,218.6 442.0,218.1 443.0,217.6 444.0,217.1 445.0,216.6 446.0,216.1 447.0,215.6 448.0,215.1 449.0,214.5 450.0,214.0 451.0,213.4 452.0,212.9 453.0,212.3 454.0,211.7 455.0,211.1 456.0,210.5 457.0,209.9 458.0,209.3 459.0,208.7 460.0,208.1 461.0,207.4 462.0,206.8 463.0,206.2 464.0,205.6 465.0,205.1 466.0,204.5 467.0,203.9 468.0,203.3 469.0,202.8 470.0,202.2 471.0,201.7 472.0,201.2 473.0,200.7 474.0,200.1 475.0,199.6 476.0,199.1 477.0,198.6 478.0,198.1 479.0,197.7 480.0,197.2 481.0,196.7 482.0,196.2 483.0,195.7 484.0,195.2 485.0,194.7 486.0,194.2 487.0,193.8 488.0,193.3 489.0,192.8 490.0,192.3 491.0,191.8 492.0,191.4 493.0,190.9 494.0,190.4 495.0,189.9 496.0,189.4 497.0,189.0 498.0,188.5 499.0,188.0 500.0,187.5 501.0,187.1 502.0,186.6 503.0,186.1 504.0,185.6 505.0,185.2 506.0,184.7" fill="none" stroke="#0e0ee6" stroke-width="2.4" stroke-dasharray="2.9 1.9"/>
<polyline points="397.0,237.0 398.0,236.8 399.0,236.5 400.0,236.2 401.0,236.0 402.0,235.7 403.0,235.4 404.0,235.1 405.0,234.8 406.0,234.5 407.0,234.2 408.0,233.9 409.0,233.6 410.0,233.3 411.0,232.9 412.0,232.6 413.0,232.3 414.0,231.9 415.0,231.6 416.0,231.2 417.0,230.8 418.0,230.5 419.0,230.1 420.0,229.7 421.0,229.3 422.0,228.9 423.0,228.5 424.0,228.1 425.0,227.7 426.0,227.2 427.0,226.8 428.0,226.4 429.0,225.9 430.0,225.5 431.0,225.0 432.0,224.6 433.0,224.1 434.0,223.6 435.0,223.2 436.0,222.7 437.0,222.2 438.0,221.8 439.0,221.3 440.0,220.8 441.0,220.3 442.0,219.9 443.0,219.4 444.0,218.9 445.0,218.4 446.0,217.8 447.0,217.3 448.0,216.8 449.0,216.2 450.0,215.7 451.0,215.1 452.0,214.5 453.0,214.0 454.0,213.4 455.0,212.8 456.0,212.2 457.0,211.6 458.0,210.9 459.0,210.3 460.0,209.7 461.0,209.1 462.0,208.4 463.0,207.8 464.0,207.2 465.0,206.6 466.0,206.0 467.0,205.5 468.0,204.9 469.0,204.3 470.0,203.8 471.0,203.2 472.0,202.7 473.0,202.1 474.0,201.6 475.0,201.1 476.0,200.6 477.0,200.1 478.0,199.5 479.0,199.0 480.0,198.5 481.0,198.0 482.0,197.5 483.0,197.0 484.0,196.5 485.0,196.0 486.0,195.5 487.0,195.0 488.0,194.5 489.0,194.0 490.0,193.5 491.0,193.0 492.0,192.5 493.0,192.0 494.0,191.5 495.0,191.0 496.0,190.5 497.0,190.0 498.0,189.5 499.0,189.0 500.0,188.5 501.0,188.0 502.0,187.6 503.0,187.1 504.0,186.6 505.0,186.1 506.0,185.6" fill="none" stroke="#0e0ee6" stroke-width="2.7" />
<polyline points="397.0,238.5 398.0,238.3 399.0,238.0 400.0,237.8 401.0,237.5 402.0,237.2 403.0,236.9 404.0,236.7 405.0,236.4 406.0,236.1 407.0,235.8 408.0,235.5 409.0,235.2 410.0,234.8 411.0,234.5 412.0,234.2 413.0,233.8 414.0,233.5 415.0,233.2 416.0,232.8 417.0,232.5 418.0,232.1 419.0,231.7 420.0,231.3 421.0,231.0 422.0,230.6 423.0,230.2 424.0,229.8 425.0,229.3 426.0,228.9 427.0,228.5 428.0,228.1 429.0,227.6 430.0,227.2 431.0,226.8 432.0,226.3 433.0,225.8 434.0,225.4 435.0,224.9 436.0,224.5 437.0,224.0 438.0,223.5 439.0,223.0 440.0,222.6 441.0,222.1 442.0,221.6 443.0,221.1 444.0,220.6 445.0,220.1 446.0,219.5 447.0,219.0 448.0,218.5 449.0,217.9 450.0,217.3 451.0,216.8 452.0,216.2 453.0,215.6 454.0,215.0 455.0,214.4 456.0,213.8 457.0,213.2 458.0,212.6 459.0,211.9 460.0,211.3 461.0,210.7 462.0,210.0 463.0,209.4 464.0,208.8 465.0,208.2 466.0,207.6 467.0,207.0 468.0,206.4 469.0,205.9 470.0,205.3 471.0,204.7 472.0,204.2 473.0,203.6 474.0,203.1 475.0,202.5 476.0,202.0 477.0,201.5 478.0,200.9 479.0,200.4 480.0,199.9 481.0,199.4 482.0,198.8 483.0,198.3 484.0,197.8 485.0,197.3 486.0,196.7 487.0,196.2 488.0,195.7 489.0,195.2 490.0,194.7 491.0,194.2 492.0,193.6 493.0,193.1 494.0,192.6 495.0,192.1 496.0,191.6 497.0,191.1 498.0,190.6 499.0,190.0 500.0,189.5 501.0,189.0 502.0,188.5 503.0,188.0 504.0,187.5 505.0,187.0 506.0,186.5" fill="none" stroke="#0e0ee6" stroke-width="2.7" />
<polyline points="397.0,240.0 398.0,239.8 399.0,239.5 400.0,239.3 401.0,239.0 402.0,238.7 403.0,238.5 404.0,238.2 405.0,237.9 406.0,237.6 407.0,237.3 408.0,237.0 409.0,236.7 410.0,236.4 411.0,236.1 412.0,235.8 413.0,235.4 414.0,235.1 415.0,234.8 416.0,234.4 417.0,234.1 418.0,233.7 419.0,233.4 420.0,233.0 421.0,232.6 422.0,232.2 423.0,231.8 424.0,231.4 425.0,231.0 426.0,230.6 427.0,230.2 428.0,229.8 429.0,229.3 430.0,228.9 431.0,228.5 432.0,228.0 433.0,227.6 434.0,227.1 435.0,226.7 436.0,226.2 437.0,225.7 438.0,225.3 439.0,224.8 440.0,224.3 441.0,223.8 442.0,223.3 443.0,222.8 444.0,222.3 445.0,221.8 446.0,221.2 447.0,220.7 448.0,220.2 449.0,219.6 450.0,219.0 451.0,218.4 452.0,217.9 453.0,217.3 454.0,216.7 455.0,216.1 456.0,215.4 457.0,214.8 458.0,214.2 459.0,213.5 460.0,212.9 461.0,212.3 462.0,211.6 463.0,211.0 464.0,210.4 465.0,209.8 466.0,209.2 467.0,208.6 468.0,208.0 469.0,207.4 470.0,206.8 471.0,206.2 472.0,205.7 473.0,205.1 474.0,204.5 475.0,204.0 476.0,203.4 477.0,202.9 478.0,202.3 479.0,201.8 480.0,201.2 481.0,200.7 482.0,200.2 483.0,199.6 484.0,199.1 485.0,198.5 486.0,198.0 487.0,197.5 488.0,196.9 489.0,196.4 490.0,195.8 491.0,195.3 492.0,194.8 493.0,194.2 494.0,193.7 495.0,193.2 496.0,192.7 497.0,192.1 498.0,191.6 499.0,191.1 500.0,190.5 501.0,190.0 502.0,189.5 503.0,188.9 504.0,188.4 505.0,187.9 506.0,187.3" fill="none" stroke="#0e0ee6" stroke-width="2.7" />
<polyline points="397.0,241.1 398.0,240.9 399.0,240.6 400.0,240.4 401.0,240.1 402.0,239.8 403.0,239.6 404.0,239.3 405.0,239.0 406.0,238.7 407.0,238.4 408.0,238.1 409.0,237.8 410.0,237.5 411.0,237.2 412.0,236.9 413.0,236.6 414.0,236.2 415.0,235.9 416.0,235.6 417.0,235.2 418.0,234.9 419.0,234.5 420.0,234.2 421.0,233.8 422.0,233.4 423.0,233.0 424.0,232.6 425.0,232.2 426.0,231.8 427.0,231.4 428.0,231.0 429.0,230.6 430.0,230.1 431.0,229.7 432.0,229.3 433.0,228.8 434.0,228.4 435.0,227.9 436.0,227.4 437.0,227.0 438.0,226.5 439.0,226.0 440.0,225.5 441.0,225.1 442.0,224.6 443.0,224.0 444.0,223.5 445.0,223.0 446.0,222.5 447.0,221.9 448.0,221.4 449.0,220.8 450.0,220.2 451.0,219.6 452.0,219.0 453.0,218.4 454.0,217.8 455.0,217.2 456.0,216.6 457.0,216.0 458.0,215.3 459.0,214.7 460.0,214.1 461.0,213.4 462.0,212.8 463.0,212.2 464.0,211.5 465.0,210.9 466.0,210.3 467.0,209.7 468.0,209.1 469.0,208.5 470.0,207.9 471.0,207.3 472.0,206.7 473.0,206.2 474.0,205.6 475.0,205.0 476.0,204.5 477.0,203.9 478.0,203.3 479.0,202.8 480.0,202.2 481.0,201.7 482.0,201.1 483.0,200.5 484.0,200.0 485.0,199.4 486.0,198.9 487.0,198.3 488.0,197.8 489.0,197.2 490.0,196.7 491.0,196.1 492.0,195.6 493.0,195.0 494.0,194.5 495.0,194.0 496.0,193.4 497.0,192.9 498.0,192.3 499.0,191.8 500.0,191.2 501.0,190.7 502.0,190.2 503.0,189.6 504.0,189.1 505.0,188.5 506.0,188.0" fill="none" stroke="#0e0ee6" stroke-width="2.0" stroke-dasharray="3.4 1.4"/>
<polyline points="226.0,249.9 226.5,249.4 227.0,248.9 227.5,248.4 228.0,247.9 228.5,247.8 229.0,247.6 229.5,247.4 230.0,247.2 230.5,247.1 231.0,246.9 231.5,246.7 232.0,246.5 232.5,246.4 233.0,246.3 233.5,246.3 234.0,246.3 234.5,246.2 235.0,246.2 235.5,246.2 236.0,246.2 236.5,246.1 237.0,246.1 237.5,246.1 238.0,246.0 238.5,246.0 239.0,246.0 239.5,246.0 240.0,245.9 241.0,245.9 242.0,245.9 243.0,245.8 244.0,245.8 245.0,245.7 246.0,245.7 247.0,245.7 248.0,245.6 249.0,245.6 250.0,245.6 251.0,245.5 252.0,245.5 253.0,245.4 254.0,245.4 255.0,245.4 256.0,245.3 257.0,245.3 258.0,245.3 259.0,245.2 260.0,245.2 261.0,245.1 262.0,245.1 263.0,245.1 264.0,245.0 265.0,245.0 266.0,245.0 267.0,244.9 268.0,244.9 269.0,244.8 270.0,244.8 271.0,244.8 272.0,244.7 273.0,244.7 274.0,244.7 275.0,244.6 276.0,244.6 277.0,244.5 278.0,244.5 279.0,244.5 280.0,244.4 281.0,244.4 282.0,244.3 283.0,244.3 284.0,244.3 285.0,244.2 286.0,244.2 287.0,244.1 288.0,244.1 289.0,244.1 290.0,244.0 291.0,244.0 292.0,243.9 293.0,243.9 294.0,243.9 295.0,243.8 296.0,243.8 297.0,243.7 298.0,243.7 299.0,243.6 300.0,243.6 301.0,243.6 302.0,243.5 303.0,243.5 304.0,243.4 305.0,243.4 306.0,243.4 307.0,243.3 308.0,243.3 309.0,243.2 310.0,243.2 311.0,243.2 312.0,243.1 313.0,243.1 314.0,243.0 315.0,243.0 316.0,242.9 317.0,242.9 318.0,242.8 319.0,242.8 320.0,242.7 321.0,242.6 322.0,242.6 323.0,242.5 324.0,242.5 325.0,242.4 326.0,242.3 327.0,242.2 328.0,242.2 329.0,242.1 330.0,242.0 331.0,242.0 332.0,241.9 333.0,241.8 334.0,241.7 335.0,241.6 336.0,241.6 337.0,241.5 338.0,241.4 339.0,241.3 340.0,241.3 341.0,241.2 342.0,241.1 343.0,241.0 344.0,241.0 345.0,240.9 346.0,240.8 347.0,240.7 348.0,240.7 349.0,240.6 350.0,240.5 351.0,240.4 352.0,240.3 353.0,240.3 354.0,240.2 355.0,240.1 356.0,240.0 357.0,239.9 358.0,239.8 359.0,239.7 360.0,239.6 361.0,239.4 362.0,239.3 363.0,239.2 364.0,239.1 365.0,238.9 366.0,238.8 367.0,238.6 368.0,238.5 369.0,238.3 370.0,238.2 371.0,238.0 372.0,237.9 373.0,237.7 374.0,237.5 375.0,237.3 376.0,237.2 377.0,237.0 378.0,236.8 379.0,236.6 380.0,236.4 381.0,236.2 382.0,236.0 383.0,235.7 384.0,235.5 385.0,235.3 386.0,235.1 387.0,234.8 388.0,234.6 389.0,234.3 390.0,234.1 391.0,233.8 392.0,233.6 393.0,233.3 394.0,233.1 395.0,232.8 396.0,232.5 397.0,232.2 398.0,232.0 399.0,231.7 400.0,231.4 401.0,231.1 402.0,230.8 403.0,230.5 404.0,230.2 405.0,229.9 406.0,229.6 407.0,229.2 408.0,228.9 409.0,228.6 410.0,228.2 411.0,227.9 412.0,227.5 413.0,227.1 414.0,226.8 415.0,226.4 416.0,226.0 417.0,225.6 418.0,225.3 419.0,224.9 420.0,224.4 421.0,224.0 422.0,223.6 423.0,223.2 424.0,222.7 425.0,222.3 426.0,221.8 427.0,221.4 428.0,220.9 429.0,220.4 430.0,220.0" fill="none" stroke="#0c0cb0" stroke-width="2.5" stroke-dasharray="2.4 2.4"/>
<polyline points="430.0,221.3 431.0,220.8 432.0,220.4 433.0,219.9 434.0,219.4 435.0,218.9 436.0,218.5 437.0,218.0 438.0,217.5 439.0,217.1 440.0,216.6 441.0,216.1 442.0,215.7 443.0,215.2 444.0,214.7 445.0,214.2 446.0,213.7 447.0,213.2 448.0,212.7 449.0,212.1 450.0,211.6 451.0,211.1 452.0,210.5 453.0,209.9 454.0,209.4 455.0,208.8 456.0,208.2 457.0,207.6 458.0,207.0 459.0,206.4 460.0,205.7 461.0,205.1 462.0,204.5 463.0,203.9 464.0,203.4 465.0,202.8 466.0,202.2 467.0,201.7 468.0,201.1 469.0,200.6 470.0,200.1 471.0,199.5 472.0,199.0 473.0,198.5 474.0,198.0 475.0,197.6 476.0,197.1 477.0,196.6 478.0,196.2 479.0,195.7 480.0,195.2 481.0,194.8 482.0,194.3 483.0,193.8 484.0,193.4 485.0,192.9 486.0,192.5 487.0,192.0 488.0,191.5 489.0,191.1 490.0,190.6 491.0,190.2 492.0,189.7 493.0,189.3 494.0,188.8 495.0,188.4 496.0,187.9 497.0,187.5 498.0,187.0 499.0,186.6 500.0,186.1 501.0,185.7 502.0,185.2 503.0,184.8 504.0,184.3 505.0,183.9 506.0,183.4" fill="none" stroke="#0c0cb0" stroke-width="2.2" stroke-dasharray="2.4 2.4"/>
</g>
<defs><clipPath id="pc"><rect x="99.2" y="12.2" width="406.5" height="339.1"/></clipPath></defs>
<g clip-path="url(#pc)">
<ellipse cx="99.4" cy="315.7" rx="2.1" ry="3.3" fill="#d01818"/>
<ellipse cx="98.9" cy="320.8" rx="1.6" ry="3.3" fill="#d01818"/>
<ellipse cx="108.8" cy="324.3" rx="1.4" ry="2.4" fill="#0e0ee6"/>
<ellipse cx="110.0" cy="319.9" rx="1.9" ry="3.3" fill="#d01818"/>
<ellipse cx="114.3" cy="323.4" rx="2.1" ry="3.3" fill="#0e0ee6"/>
<ellipse cx="110.3" cy="321.0" rx="1.5" ry="2.8" fill="#0e0ee6"/>
<ellipse cx="121.0" cy="323.5" rx="2.0" ry="3.0" fill="#0e0ee6"/>
<ellipse cx="122.0" cy="321.3" rx="1.7" ry="2.0" fill="#0e0ee6"/>
<ellipse cx="125.2" cy="321.0" rx="1.4" ry="2.7" fill="#0e0ee6"/>
<ellipse cx="126.1" cy="325.1" rx="2.1" ry="2.9" fill="#0e0ee6"/>
<ellipse cx="125.5" cy="318.2" rx="2.2" ry="2.1" fill="#19b519"/>
<ellipse cx="130.7" cy="316.5" rx="1.9" ry="3.7" fill="#d01818"/>
<ellipse cx="130.0" cy="321.9" rx="1.7" ry="3.3" fill="#d01818"/>
<ellipse cx="135.6" cy="315.9" rx="1.7" ry="3.7" fill="#19b519"/>
<ellipse cx="135.8" cy="317.4" rx="2.0" ry="2.8" fill="#19b519"/>
<ellipse cx="140.5" cy="323.2" rx="1.7" ry="1.9" fill="#0e0ee6"/>
<ellipse cx="146.3" cy="313.5" rx="1.7" ry="2.3" fill="#0e0ee6"/>
<ellipse cx="141.0" cy="313.3" rx="1.3" ry="2.4" fill="#d01818"/>
<ellipse cx="152.6" cy="319.5" rx="1.8" ry="2.8" fill="#0e0ee6"/>
<ellipse cx="151.0" cy="318.2" rx="1.6" ry="3.2" fill="#d01818"/>
<ellipse cx="156.3" cy="327.2" rx="1.7" ry="2.9" fill="#d01818"/>
<ellipse cx="151.8" cy="327.5" rx="2.1" ry="2.2" fill="#d01818"/>
<ellipse cx="158.1" cy="324.6" rx="1.5" ry="3.0" fill="#0e0ee6"/>
<ellipse cx="158.5" cy="323.6" rx="2.2" ry="2.4" fill="#d01818"/>
<ellipse cx="164.1" cy="319.7" rx="1.9" ry="2.1" fill="#0e0ee6"/>
<ellipse cx="169.6" cy="320.4" rx="1.4" ry="2.5" fill="#0e0ee6"/>
<ellipse cx="173.7" cy="314.9" rx="2.1" ry="2.3" fill="#0e0ee6"/>
<ellipse cx="174.2" cy="321.2" rx="1.5" ry="2.9" fill="#0e0ee6"/>
<ellipse cx="173.9" cy="321.7" rx="1.6" ry="2.1" fill="#0e0ee6"/>
<ellipse cx="179.7" cy="319.2" rx="1.4" ry="2.6" fill="#0e0ee6"/>
<ellipse cx="179.2" cy="322.0" rx="1.6" ry="3.3" fill="#0e0ee6"/>
<ellipse cx="178.3" cy="322.9" rx="2.2" ry="2.4" fill="#d01818"/>
<ellipse cx="184.5" cy="319.7" rx="2.2" ry="3.4" fill="#0e0ee6"/>
<ellipse cx="189.8" cy="320.3" rx="1.6" ry="3.5" fill="#0e0ee6"/>
<ellipse cx="190.8" cy="321.8" rx="1.6" ry="3.6" fill="#0e0ee6"/>
<ellipse cx="196.4" cy="315.4" rx="1.6" ry="2.8" fill="#d01818"/>
<ellipse cx="195.5" cy="321.5" rx="1.9" ry="3.0" fill="#0e0ee6"/>
<ellipse cx="195.9" cy="317.4" rx="1.7" ry="2.4" fill="#d01818"/>
<ellipse cx="199.6" cy="315.6" rx="1.9" ry="3.0" fill="#d01818"/>
<ellipse cx="200.6" cy="316.8" rx="1.4" ry="2.6" fill="#0e0ee6"/>
<polygon points="99.2,351.3 99.2,324.0 99.2,325.8 102.4,320.8 104.1,326.7 107.0,321.7 108.7,320.8 111.5,323.2 113.4,326.8 115.2,325.6 116.9,321.1 119.7,328.0 122.1,324.3 125.0,321.2 127.1,329.1 130.5,320.9 132.0,327.8 134.4,327.7 137.2,324.8 140.1,326.2 141.6,324.9 144.9,327.9 147.7,326.4 150.8,323.3 153.1,326.5 156.3,323.6 158.1,323.1 160.5,321.4 163.2,329.0 165.4,329.6 167.8,325.6 171.2,327.2 173.7,327.7 176.2,327.4 178.1,321.2 180.8,325.5 183.2,321.6 186.6,321.6 190.0,323.5 192.1,329.4 195.5,327.2 198.9,322.2 202.2,326.4 204.2,326.2 206.0,328.0 208.0,324.0 208.0,351.3" fill="#000"/>
<line x1="101.7" x2="100.8" y1="313.7" y2="336" stroke="#000" stroke-width="3.0" stroke-linecap="round"/>
<line x1="107.0" x2="106.3" y1="317.5" y2="336" stroke="#000" stroke-width="3.9" stroke-linecap="round"/>
<line x1="112.4" x2="111.9" y1="317.5" y2="336" stroke="#000" stroke-width="2.7" stroke-linecap="round"/>
<line x1="118.8" x2="118.8" y1="320.2" y2="336" stroke="#000" stroke-width="4.1" stroke-linecap="round"/>
<line x1="123.3" x2="122.7" y1="321.4" y2="336" stroke="#000" stroke-width="4.1" stroke-linecap="round"/>
<line x1="127.9" x2="127.4" y1="314.0" y2="336" stroke="#000" stroke-width="3.7" stroke-linecap="round"/>
<line x1="132.4" x2="132.5" y1="314.9" y2="336" stroke="#000" stroke-width="3.2" stroke-linecap="round"/>
<line x1="138.4" x2="137.5" y1="316.9" y2="336" stroke="#000" stroke-width="4.0" stroke-linecap="round"/>
<line x1="143.4" x2="144.0" y1="314.2" y2="336" stroke="#000" stroke-width="2.9" stroke-linecap="round"/>
<line x1="149.3" x2="149.2" y1="314.3" y2="336" stroke="#000" stroke-width="3.7" stroke-linecap="round"/>
<line x1="154.6" x2="154.4" y1="320.9" y2="336" stroke="#000" stroke-width="3.3" stroke-linecap="round"/>
<line x1="160.5" x2="160.7" y1="318.5" y2="336" stroke="#000" stroke-width="3.7" stroke-linecap="round"/>
<line x1="167.0" x2="166.2" y1="317.0" y2="336" stroke="#000" stroke-width="4.3" stroke-linecap="round"/>
<line x1="171.8" x2="172.7" y1="314.5" y2="336" stroke="#000" stroke-width="4.0" stroke-linecap="round"/>
<line x1="176.9" x2="176.0" y1="316.1" y2="336" stroke="#000" stroke-width="2.8" stroke-linecap="round"/>
<line x1="181.2" x2="181.4" y1="320.3" y2="336" stroke="#000" stroke-width="3.2" stroke-linecap="round"/>
<line x1="187.6" x2="188.7" y1="318.8" y2="336" stroke="#000" stroke-width="4.0" stroke-linecap="round"/>
<line x1="193.3" x2="192.4" y1="315.1" y2="336" stroke="#000" stroke-width="3.3" stroke-linecap="round"/>
<line x1="198.5" x2="199.0" y1="314.5" y2="336" stroke="#000" stroke-width="3.9" stroke-linecap="round"/>
<line x1="202.8" x2="203.9" y1="316.5" y2="336" stroke="#000" stroke-width="3.9" stroke-linecap="round"/>
<circle cx="101.1" cy="321.8" r="1.5" fill="#d01818" opacity="0.75"/>
<circle cx="111.2" cy="321.9" r="1.2" fill="#d01818" opacity="0.75"/>
<circle cx="124.9" cy="327.5" r="1.1" fill="#d01818" opacity="0.75"/>
<circle cx="131.9" cy="320.8" r="1.3" fill="#0e0ee6" opacity="0.75"/>
<circle cx="144.9" cy="317.1" r="1.4" fill="#0e0ee6" opacity="0.75"/>
<circle cx="155.6" cy="328.7" r="1.2" fill="#0e0ee6" opacity="0.75"/>
<circle cx="166.8" cy="320.3" r="1.5" fill="#0e0ee6" opacity="0.75"/>
<circle cx="178.1" cy="326.1" r="1.2" fill="#d01818" opacity="0.75"/>
<circle cx="187.2" cy="326.1" r="1.2" fill="#19b519" opacity="0.75"/>
<circle cx="196.7" cy="318.5" r="1.4" fill="#19b519" opacity="0.75"/>
</g>
<polygon points="203.50,351.0 203.75,346.8 204.00,342.5 204.25,338.2 204.50,334.0 204.75,330.9 205.00,327.8 205.25,324.6 205.50,321.5 205.75,318.4 206.00,315.2 206.25,312.1 206.50,309.0 206.75,307.8 207.00,306.5 207.25,305.2 207.50,304.0 207.75,302.8 208.00,301.5 208.25,300.2 208.50,299.0 208.75,297.8 209.00,296.5 209.25,295.3 209.50,294.0 209.75,292.8 210.00,291.5 210.25,290.3 210.50,289.1 210.75,287.9 211.00,286.7 211.25,285.6 211.50,284.4 211.75,283.2 212.00,281.9 212.25,280.5 212.50,279.1 212.75,277.7 213.00,276.3 213.25,275.1 213.50,273.9 213.75,272.7 214.00,271.5 214.25,270.3 214.50,269.1 214.75,268.0 215.00,266.9 215.25,265.8 215.50,264.7 215.75,263.7 216.00,262.7 216.25,261.7 216.50,260.7 216.75,259.8 217.00,258.9 217.25,257.9 217.50,257.0 217.75,256.1 218.00,255.2 218.25,254.3 218.50,253.3 218.75,252.4 219.00,251.4 219.25,250.4 219.50,249.5 219.75,248.5 220.00,247.5 220.25,246.5 220.50,245.5 220.75,244.6 221.00,243.6 221.25,242.7 221.50,241.8 221.75,240.9 222.00,240.0 222.25,239.2 222.50,238.4 222.75,237.6 223.00,236.8 223.25,236.1 223.50,235.4 223.75,234.7 224.00,234.0 224.25,233.4 224.50,232.8 224.75,232.2 225.00,231.6 225.25,231.1 225.50,230.5 225.75,230.0 226.00,229.5 226.25,228.9 226.50,228.4 226.75,227.9 227.00,227.3 227.25,226.8 227.50,226.3 227.75,225.8 228.00,225.3 228.25,224.8 228.50,224.3 228.75,223.9 229.00,223.4 229.25,222.9 229.50,222.5 229.75,222.0 230.00,221.6 230.25,221.1 230.50,220.7 230.75,220.3 231.00,219.8 231.25,219.4 231.50,219.0 231.75,218.6 232.00,218.2 232.25,217.8 232.50,217.3 232.75,216.9 233.00,216.5 233.25,216.1 233.50,215.7 233.75,215.2 234.00,214.8 234.25,214.4 234.50,214.0 234.75,213.6 235.00,213.2 235.25,212.8 235.50,212.3 235.75,211.9 236.00,211.5 236.25,211.1 236.50,210.7 236.75,210.3 237.00,209.9 237.25,209.5 237.50,209.1 237.75,208.7 238.00,208.3 238.25,208.0 238.50,207.6 238.75,207.2 239.00,206.8 239.25,206.4 239.50,206.1 239.75,205.7 240.00,205.3 240.25,204.9 240.50,204.6 240.75,204.2 241.00,203.8 241.25,203.5 241.50,203.1 241.75,202.7 242.00,202.4 242.25,202.0 242.50,201.6 242.75,201.3 243.00,200.9 243.25,200.5 243.50,200.2 243.75,199.8 244.00,199.4 244.25,199.1 244.50,198.7 244.75,198.3 245.00,197.9 245.25,197.6 245.50,197.2 245.75,196.8 246.00,196.4 246.25,196.0 246.50,195.6 246.75,195.2 247.00,194.8 247.25,194.4 247.50,194.0 247.75,193.6 248.00,193.2 248.25,192.7 248.50,192.3 248.75,191.9 249.00,191.5 249.25,191.0 249.50,190.6 249.75,190.2 250.00,189.7 250.25,189.3 250.50,188.8 250.75,188.4 251.00,187.9 251.25,187.5 251.50,187.1 251.75,186.6 252.00,186.2 252.25,185.7 252.50,185.3 252.75,184.9 253.00,184.4 253.25,184.0 253.50,183.6 253.75,183.1 254.00,182.7 254.25,182.3 254.50,181.9 254.75,181.4 255.00,181.0 255.25,180.6 255.50,180.2 255.75,179.8 256.00,179.4 256.25,179.0 256.50,178.5 256.75,178.1 257.00,177.7 257.25,177.3 257.50,176.9 257.75,176.5 258.00,175.9 258.25,175.4 258.50,174.7 258.75,174.0 259.00,173.3 259.25,174.1 259.50,173.7 259.75,173.3 260.00,172.9 261.00,171.3 262.00,168.0 263.00,166.9 264.00,165.7 265.00,164.5 266.00,163.1 267.00,161.7 268.00,160.2 269.00,158.6 270.00,157.0 271.00,155.4 272.00,153.9 273.00,152.3 274.00,150.8 275.00,149.3 276.00,147.7 277.00,146.3 278.00,144.8 279.00,143.4 280.00,141.9 281.00,140.5 282.00,139.1 283.00,137.7 284.00,136.4 285.00,135.0 286.00,133.7 287.00,132.4 288.00,131.1 289.00,129.8 290.00,128.5 291.00,127.3 292.00,126.0 293.00,124.8 294.00,123.6 295.00,122.4 296.00,121.2 297.00,120.0 298.00,118.9 299.00,117.7 300.00,116.6 301.00,115.5 302.00,114.4 303.00,113.4 304.00,112.3 305.00,111.3 306.00,110.3 307.00,109.3 308.00,108.3 309.00,107.4 310.00,106.4 311.00,105.4 312.00,104.5 313.00,103.5 314.00,102.6 315.00,101.7 316.00,100.8 317.00,99.9 318.00,99.0 319.00,98.2 320.00,97.3 321.00,96.5 322.00,95.7 323.00,94.9 324.00,94.1 325.00,93.3 326.00,92.5 327.00,91.8 328.00,91.0 329.00,90.3 330.00,89.6 331.00,89.0 332.00,88.3 333.00,87.6 334.00,86.9 335.00,86.3 336.00,85.6 337.00,84.9 338.00,84.3 339.00,83.7 340.00,83.0 341.00,82.4 342.00,81.8 343.00,81.2 344.00,80.6 345.00,80.0 346.00,79.4 347.00,78.8 348.00,78.2 349.00,77.6 350.00,77.1 351.00,76.5 352.00,75.9 353.00,75.3 354.00,74.7 355.00,74.1 356.00,73.6 357.00,73.0 358.00,72.4 359.00,71.8 360.00,71.2 361.00,70.7 362.00,70.1 363.00,69.5 364.00,69.0 365.00,68.4 366.00,67.8 367.00,67.3 368.00,66.7 369.00,66.1 370.00,65.6 371.00,65.0 372.00,64.5 373.00,63.9 374.00,63.4 375.00,62.9 376.00,62.3 377.00,61.8 378.00,61.2 379.00,60.7 380.00,60.2 381.00,59.7 382.00,59.2 383.00,58.7 384.00,58.2 385.00,57.7 386.00,57.2 387.00,56.7 388.00,56.3 389.00,55.8 390.00,55.3 391.00,54.9 392.00,54.4 393.00,54.0 394.00,53.6 395.00,53.2 396.00,52.8 397.00,52.4 398.00,52.0 399.00,51.6 400.00,51.3 401.00,50.9 402.00,50.6 403.00,50.2 404.00,49.9 405.00,49.5 406.00,49.2 407.00,48.9 408.00,48.6 409.00,48.3 410.00,48.0 411.00,47.7 412.00,47.4 413.00,47.1 414.00,46.8 415.00,46.5 416.00,46.2 417.00,45.9 418.00,45.7 419.00,45.4 420.00,45.1 421.00,44.8 422.00,44.6 423.00,44.3 424.00,44.0 425.00,43.8 426.00,43.5 427.00,43.3 428.00,43.0 429.00,42.8 430.00,42.5 431.00,42.2 432.00,42.0 433.00,41.8 434.00,41.5 435.00,41.3 436.00,41.0 437.00,40.8 438.00,40.5 439.00,40.3 440.00,40.0 441.00,39.8 442.00,39.6 443.00,39.3 444.00,39.1 445.00,38.9 446.00,38.6 447.00,38.4 448.00,38.2 449.00,38.0 450.00,37.7 451.00,37.5 452.00,37.3 453.00,37.0 454.00,36.8 455.00,36.6 456.00,36.4 457.00,36.1 458.00,35.9 459.00,35.7 460.00,35.4 461.00,35.2 462.00,35.0 463.00,34.7 464.00,34.5 465.00,34.2 466.00,34.0 467.00,33.7 468.00,33.5 469.00,33.2 470.00,33.0 471.00,32.8 472.00,32.5 473.00,32.3 474.00,32.0 475.00,31.8 476.00,31.5 477.00,31.3 478.00,31.0 479.00,30.8 480.00,30.6 481.00,30.3 482.00,30.1 483.00,29.9 484.00,29.6 485.00,29.4 486.00,29.2 487.00,29.0 488.00,28.7 489.00,28.5 490.00,28.3 491.00,28.1 492.00,27.9 493.00,27.6 494.00,27.4 495.00,27.2 496.00,27.0 497.00,26.8 498.00,26.6 499.00,26.3 500.00,26.1 501.00,25.9 502.00,25.7 503.00,25.5 504.00,25.2 505.00,25.0 506.00,24.8 506.00,51.3 505.00,51.4 504.00,51.6 503.00,51.7 502.00,51.9 501.00,52.0 500.00,52.2 499.00,52.3 498.00,52.4 497.00,52.6 496.00,52.7 495.00,52.9 494.00,53.0 493.00,53.1 492.00,53.3 491.00,53.4 490.00,53.6 489.00,53.7 488.00,53.9 487.00,54.0 486.00,54.2 485.00,54.3 484.00,54.5 483.00,54.6 482.00,54.8 481.00,55.0 480.00,55.1 479.00,55.3 478.00,55.5 477.00,55.7 476.00,55.9 475.00,56.1 474.00,56.2 473.00,56.4 472.00,56.6 471.00,56.8 470.00,57.1 469.00,57.3 468.00,57.5 467.00,57.7 466.00,57.9 465.00,58.1 464.00,58.3 463.00,58.5 462.00,58.7 461.00,58.9 460.00,59.1 459.00,59.3 458.00,59.5 457.00,59.7 456.00,59.9 455.00,60.1 454.00,60.3 453.00,60.5 452.00,60.7 451.00,60.9 450.00,61.0 449.00,61.2 448.00,61.4 447.00,61.6 446.00,61.8 445.00,62.0 444.00,62.2 443.00,62.4 442.00,62.6 441.00,62.9 440.00,63.1 439.00,63.3 438.00,63.5 437.00,63.7 436.00,63.9 435.00,64.1 434.00,64.4 433.00,64.6 432.00,64.8 431.00,65.0 430.00,65.2 429.00,65.5 428.00,65.7 427.00,65.9 426.00,66.2 425.00,66.4 424.00,66.6 423.00,66.9 422.00,67.1 421.00,67.4 420.00,67.6 419.00,67.9 418.00,68.1 417.00,68.4 416.00,68.7 415.00,68.9 414.00,69.2 413.00,69.5 412.00,69.7 411.00,70.0 410.00,70.3 409.00,70.6 408.00,70.9 407.00,71.1 406.00,71.4 405.00,71.7 404.00,72.0 403.00,72.3 402.00,72.5 401.00,72.8 400.00,73.1 399.00,73.4 398.00,73.7 397.00,74.0 396.00,74.4 395.00,74.7 394.00,75.0 393.00,75.3 392.00,75.7 391.00,76.0 390.00,76.3 389.00,76.7 388.00,77.0 387.00,77.4 386.00,77.8 385.00,78.1 384.00,78.5 383.00,78.8 382.00,79.2 381.00,79.6 380.00,79.9 379.00,80.3 378.00,80.7 377.00,81.0 376.00,81.4 375.00,81.8 374.00,82.2 373.00,82.6 372.00,83.0 371.00,83.5 370.00,83.9 369.00,84.3 368.00,84.8 367.00,85.2 366.00,85.7 365.00,86.2 364.00,86.7 363.00,87.2 362.00,87.7 361.00,88.2 360.00,88.7 359.00,89.2 358.00,89.7 357.00,90.2 356.00,90.7 355.00,91.2 354.00,91.7 353.00,92.2 352.00,92.7 351.00,93.3 350.00,93.8 349.00,94.4 348.00,94.9 347.00,95.5 346.00,96.1 345.00,96.7 344.00,97.3 343.00,98.0 342.00,98.6 341.00,99.3 340.00,100.0 339.00,100.7 338.00,101.4 337.00,102.1 336.00,102.9 335.00,103.6 334.00,104.4 333.00,105.1 332.00,105.9 331.00,106.7 330.00,107.4 329.00,108.2 328.00,108.9 327.00,109.7 326.00,110.4 325.00,111.2 324.00,112.0 323.00,112.8 322.00,113.6 321.00,114.5 320.00,115.3 319.00,116.2 318.00,117.1 317.00,118.0 316.00,118.9 315.00,119.9 314.00,120.9 313.00,121.8 312.00,122.8 311.00,123.8 310.00,124.9 309.00,125.9 308.00,127.0 307.00,128.0 306.00,129.1 305.00,130.1 304.00,131.2 303.00,132.2 302.00,133.3 301.00,134.4 300.00,135.6 299.00,136.8 298.00,138.0 297.00,139.2 296.00,140.4 295.00,141.7 294.00,143.0 293.00,144.3 292.00,145.6 291.00,146.9 290.00,148.3 289.00,149.7 288.00,151.2 287.00,152.7 286.00,154.1 285.00,155.6 284.00,157.2 283.00,158.7 282.00,160.2 281.00,161.8 280.00,163.4 279.00,165.0 278.00,166.6 277.00,168.2 276.00,169.8 275.00,171.5 274.00,173.1 273.00,174.7 272.00,176.3 271.00,177.9 270.00,179.5 269.00,181.0 268.00,182.6 267.00,184.0 266.00,185.4 265.00,186.7 264.00,187.9 263.00,189.0 262.00,190.0 261.00,192.9 260.00,194.3 259.75,194.6 259.50,195.0 259.25,195.4 259.00,194.8 258.75,195.5 258.50,196.1 258.25,196.7 258.00,197.2 257.75,197.7 257.50,198.1 257.25,198.5 257.00,198.9 256.75,199.3 256.50,199.7 256.25,200.1 256.00,200.5 255.75,200.9 255.50,201.3 255.25,201.7 255.00,202.1 254.75,202.4 254.50,202.8 254.25,203.2 254.00,203.6 253.75,204.0 253.50,204.4 253.25,204.8 253.00,205.2 252.75,205.6 252.50,206.0 252.25,206.4 252.00,206.8 251.75,207.1 251.50,207.5 251.25,207.9 251.00,208.3 250.75,208.7 250.50,209.1 250.25,209.5 250.00,209.9 249.75,210.3 249.50,210.7 249.25,211.1 249.00,211.5 248.75,211.9 248.50,212.2 248.25,212.6 248.00,213.0 247.75,213.4 247.50,213.8 247.25,214.2 247.00,214.6 246.75,215.0 246.50,215.4 246.25,215.8 246.00,216.2 245.75,216.6 245.50,216.9 245.25,217.3 245.00,217.7 244.75,218.1 244.50,218.5 244.25,218.9 244.00,219.3 243.75,219.7 243.50,220.1 243.25,220.5 243.00,220.9 242.75,221.2 242.50,221.6 242.25,222.0 242.00,222.3 241.75,222.7 241.50,223.1 241.25,223.4 241.00,223.8 240.75,224.1 240.50,224.4 240.25,224.8 240.00,225.1 239.75,225.4 239.50,225.7 239.25,226.1 239.00,226.4 238.75,226.7 238.50,227.0 238.25,227.3 238.00,227.6 237.75,227.9 237.50,228.2 237.25,228.5 237.00,228.8 236.75,229.0 236.50,229.3 236.25,229.6 236.00,229.9 235.75,230.2 235.50,230.5 235.25,230.8 235.00,231.1 234.75,231.4 234.50,231.7 234.25,232.0 234.00,232.3 233.75,232.6 233.50,232.9 233.25,233.2 233.00,233.5 232.75,233.8 232.50,234.1 232.25,234.4 232.00,234.7 231.75,235.1 231.50,235.5 231.25,235.9 231.00,236.4 230.75,236.9 230.50,237.4 230.25,238.0 230.00,238.6 229.75,239.2 229.50,239.8 229.25,240.5 229.00,241.2 228.75,242.0 228.50,242.8 228.25,243.6 228.00,244.4 227.75,245.3 227.50,246.2 227.25,247.2 227.00,248.1 226.75,249.1 226.50,250.0 226.25,251.0 226.00,251.9 225.75,252.9 225.50,253.9 225.25,254.8 225.00,255.8 224.75,256.7 224.50,257.7 224.25,258.6 224.00,259.6 223.75,260.6 223.50,261.5 223.25,262.5 223.00,263.5 222.75,264.5 222.50,265.5 222.25,266.5 222.00,267.5 221.75,268.5 221.50,269.5 221.25,270.5 221.00,271.5 220.75,272.5 220.50,273.6 220.25,274.6 220.00,275.7 219.75,276.7 219.50,277.8 219.25,278.9 219.00,280.0 218.75,281.1 218.50,282.2 218.25,283.3 218.00,284.4 217.75,285.5 217.50,286.6 217.25,287.8 217.00,288.9 216.75,290.0 216.50,291.1 216.25,292.2 216.00,293.4 215.75,294.5 215.50,295.6 215.25,296.8 215.00,297.9 214.75,299.1 214.50,300.4 214.25,301.8 214.00,303.3 213.75,304.9 213.50,306.6 213.25,308.4 213.00,310.3 212.75,307.9 212.50,309.0 212.25,312.1 212.00,315.2 211.75,318.4 211.50,321.5 211.25,324.6 211.00,327.8 210.75,330.9 210.50,334.0 210.25,336.5 210.00,339.0 209.75,341.5 209.50,344.0 209.25,346.5 209.00,349.0 208.75,351.0 208.50,351.0 208.25,351.0 208.00,351.0 207.75,351.0 207.50,351.0 207.25,351.0 207.00,351.0 206.75,351.0 206.50,351.0 206.25,351.0 206.00,351.0 205.75,351.0 205.50,351.0 205.25,351.0 205.00,351.0 204.75,351.0 204.50,351.0 204.25,351.0 204.00,351.0 203.75,351.0 203.50,351.0" fill="#000" stroke="#000" stroke-width="0.4" stroke-linejoin="round"/>
<polyline points="455.0,43.9 456.0,43.6 457.0,43.4 458.0,43.2 459.0,43.0 460.0,42.8 461.0,42.5 462.0,42.3 463.0,42.1 464.0,41.9 465.0,41.6 466.0,41.4 467.0,41.2 468.0,40.9 469.0,40.7 470.0,40.5 471.0,40.2 472.0,40.0 473.0,39.8 474.0,39.5 475.0,39.3 476.0,39.1 477.0,38.8 478.0,38.6 479.0,38.4 480.0,38.2 481.0,38.0 482.0,37.8 483.0,37.5 484.0,37.3 485.0,37.1 486.0,36.9 487.0,36.7 488.0,36.5 489.0,36.3 490.0,36.1 491.0,35.9 492.0,35.8 493.0,35.6 494.0,35.4 495.0,35.2 496.0,35.0 497.0,34.8 498.0,34.6 499.0,34.4 500.0,34.2 501.0,34.0 502.0,33.8 503.0,33.6 504.0,33.4 505.0,33.2 506.0,33.0" fill="none" stroke="#fff" stroke-width="0.9" stroke-dasharray="1.5 2.5" opacity="0.95"/>
<polyline points="352.0,85.2 353.0,84.6 354.0,84.1 355.0,83.5 356.0,83.0 357.0,82.5 358.0,81.9 359.0,81.4 360.0,80.8 361.0,80.3 362.0,79.8 363.0,79.2 364.0,78.7 365.0,78.2 366.0,77.7 367.0,77.1 368.0,76.6 369.0,76.1 370.0,75.7 371.0,75.2 372.0,74.7 373.0,74.2 374.0,73.7 375.0,73.3 376.0,72.8 377.0,72.4 378.0,71.9 379.0,71.5 380.0,71.1 381.0,70.6 382.0,70.2 383.0,69.8 384.0,69.3 385.0,68.9 386.0,68.5 387.0,68.1 388.0,67.7 389.0,67.3 390.0,66.9 391.0,66.5 392.0,66.1 393.0,65.7 394.0,65.4 395.0,65.0 396.0,64.7 397.0,64.3 398.0,64.0 399.0,63.6 400.0,63.3 401.0,63.0 402.0,62.7 403.0,62.3 404.0,62.0 405.0,61.7 406.0,61.4 407.0,61.1 408.0,60.8 409.0,60.6 410.0,60.3 411.0,60.0 412.0,59.7 413.0,59.4 414.0,59.1 415.0,58.8 416.0,58.6 417.0,58.3 418.0,58.0 419.0,57.8 420.0,57.5 421.0,57.2 422.0,57.0 423.0,56.7 424.0,56.5 425.0,56.2 426.0,56.0 427.0,55.7 428.0,55.5 429.0,55.2 430.0,55.0 431.0,54.8 432.0,54.5 433.0,54.3 434.0,54.1 435.0,53.8 436.0,53.6 437.0,53.4 438.0,53.2 439.0,52.9 440.0,52.7 441.0,52.5 442.0,52.3 443.0,52.0 444.0,51.8 445.0,51.6 446.0,51.4 447.0,51.2 448.0,51.0 449.0,50.8 450.0,50.6 451.0,50.3 452.0,50.1 453.0,49.9 454.0,49.7 455.0,49.5 456.0,49.3 457.0,49.1 458.0,48.9 459.0,48.7 460.0,48.4 461.0,48.2 462.0,48.0 463.0,47.8 464.0,47.6 465.0,47.3 466.0,47.1 467.0,46.9 468.0,46.7 469.0,46.5 470.0,46.2 471.0,46.0 472.0,45.8 473.0,45.6 474.0,45.3 475.0,45.1 476.0,44.9 477.0,44.7 478.0,44.5 479.0,44.3 480.0,44.1 481.0,43.9 482.0,43.7 483.0,43.5 484.0,43.3 485.0,43.1 486.0,42.9 487.0,42.7 488.0,42.6 489.0,42.4 490.0,42.2 491.0,42.0 492.0,41.9 493.0,41.7 494.0,41.5 495.0,41.3 496.0,41.1 497.0,41.0 498.0,40.8 499.0,40.6 500.0,40.4 501.0,40.3 502.0,40.1 503.0,39.9 504.0,39.7 505.0,39.6 506.0,39.4" fill="none" stroke="#fff" stroke-width="0.75" stroke-dasharray="9 2 3 1.5 14 2" opacity="0.9"/>
<polyline points="348.0,89.4 349.0,88.8 350.0,88.3 351.0,87.7 352.0,87.2 353.0,86.6 354.0,86.1 355.0,85.6 356.0,85.0 357.0,84.5 358.0,84.0 359.0,83.5 360.0,82.9 361.0,82.4 362.0,81.9 363.0,81.3 364.0,80.8 365.0,80.3 366.0,79.8 367.0,79.3 368.0,78.8 369.0,78.3 370.0,77.8 371.0,77.4 372.0,76.9 373.0,76.4 374.0,76.0 375.0,75.6 376.0,75.1 377.0,74.7 378.0,74.3 379.0,73.8 380.0,73.4 381.0,73.0 382.0,72.6 383.0,72.2 384.0,71.8 385.0,71.4 386.0,71.0 387.0,70.6 388.0,70.2 389.0,69.8 390.0,69.4 391.0,69.0 392.0,68.7 393.0,68.3 394.0,67.9 395.0,67.6 396.0,67.2 397.0,66.9 398.0,66.6 399.0,66.2 400.0,65.9 401.0,65.6 402.0,65.3 403.0,65.0 404.0,64.7 405.0,64.4 406.0,64.1 407.0,63.8 408.0,63.5 409.0,63.2 410.0,62.9 411.0,62.7 412.0,62.4 413.0,62.1 414.0,61.8 415.0,61.5 416.0,61.3 417.0,61.0 418.0,60.7 419.0,60.4 420.0,60.2 421.0,59.9 422.0,59.7 423.0,59.4 424.0,59.2 425.0,58.9 426.0,58.7 427.0,58.4 428.0,58.2 429.0,58.0 430.0,57.7 431.0,57.5 432.0,57.3 433.0,57.0 434.0,56.8 435.0,56.6 436.0,56.4 437.0,56.1 438.0,55.9 439.0,55.7 440.0,55.5" fill="none" stroke="#fff" stroke-width="0.6" stroke-dasharray="2 2 5 3" opacity="0.75"/>
<polyline points="400.0,68.5 401.0,68.2 402.0,67.9 403.0,67.6 404.0,67.3 405.0,67.0 406.0,66.8 407.0,66.5 408.0,66.2 409.0,65.9 410.0,65.6 411.0,65.3 412.0,65.0 413.0,64.8 414.0,64.5 415.0,64.2 416.0,63.9 417.0,63.7 418.0,63.4 419.0,63.1 420.0,62.9 421.0,62.6 422.0,62.4 423.0,62.1 424.0,61.9 425.0,61.6 426.0,61.4 427.0,61.2 428.0,60.9 429.0,60.7 430.0,60.5 431.0,60.2 432.0,60.0 433.0,59.8 434.0,59.6 435.0,59.3 436.0,59.1 437.0,58.9 438.0,58.7 439.0,58.4 440.0,58.2 441.0,58.0 442.0,57.8 443.0,57.6 444.0,57.4 445.0,57.2 446.0,57.0 447.0,56.8 448.0,56.6 449.0,56.4 450.0,56.1 451.0,55.9 452.0,55.7 453.0,55.5 454.0,55.3 455.0,55.1 456.0,54.9 457.0,54.7 458.0,54.5 459.0,54.3 460.0,54.1 461.0,53.9 462.0,53.7 463.0,53.5 464.0,53.3 465.0,53.1 466.0,52.9 467.0,52.6 468.0,52.4 469.0,52.2 470.0,52.0 471.0,51.8 472.0,51.6 473.0,51.4 474.0,51.2 475.0,50.9 476.0,50.7 477.0,50.5 478.0,50.4 479.0,50.2 480.0,50.0 481.0,49.8 482.0,49.6 483.0,49.4 484.0,49.3 485.0,49.1 486.0,48.9 487.0,48.7 488.0,48.6 489.0,48.4 490.0,48.3 491.0,48.1 492.0,48.0 493.0,47.8 494.0,47.6 495.0,47.5 496.0,47.3 497.0,47.2 498.0,47.0 499.0,46.8 500.0,46.7 501.0,46.5 502.0,46.4 503.0,46.2 504.0,46.1 505.0,45.9 506.0,45.7" fill="none" stroke="#fff" stroke-width="0.75" stroke-dasharray="6 2 2 2" opacity="0.85"/>
<line x1="233.8" x2="233.8" y1="12.2" y2="351.3" stroke="#878787" stroke-width="3.5"/>
<g stroke="#000">
<line x1="99.2" x2="109.7" y1="12.2" y2="12.2" stroke-width="2.4"/>
<line x1="100.2" x2="104.10000000000001" y1="42.2" y2="42.2" stroke-width="2.5" stroke-linecap="round"/>
<line x1="100.2" x2="104.10000000000001" y1="34.8" y2="34.8" stroke-width="2.5" stroke-linecap="round"/>
<line x1="100.2" x2="104.10000000000001" y1="29.5" y2="29.5" stroke-width="2.5" stroke-linecap="round"/>
<line x1="100.2" x2="104.10000000000001" y1="25.4" y2="25.4" stroke-width="3.1" stroke-linecap="round"/>
<line x1="100.2" x2="104.10000000000001" y1="22.0" y2="22.0" stroke-width="3.1" stroke-linecap="round"/>
<line x1="100.2" x2="104.10000000000001" y1="19.2" y2="19.2" stroke-width="3.1" stroke-linecap="round"/>
<line x1="100.2" x2="104.10000000000001" y1="16.7" y2="16.7" stroke-width="3.1" stroke-linecap="round"/>
<line x1="100.2" x2="104.10000000000001" y1="14.5" y2="14.5" stroke-width="3.1" stroke-linecap="round"/>
<line x1="99.2" x2="109.7" y1="54.6" y2="54.6" stroke-width="2.4"/>
<line x1="100.2" x2="104.10000000000001" y1="84.6" y2="84.6" stroke-width="2.5" stroke-linecap="round"/>
<line x1="100.2" x2="104.10000000000001" y1="77.2" y2="77.2" stroke-width="2.5" stroke-linecap="round"/>
<line x1="100.2" x2="104.10000000000001" y1="71.9" y2="71.9" stroke-width="2.5" stroke-linecap="round"/>
<line x1="100.2" x2="104.10000000000001" y1="67.7" y2="67.7" stroke-width="3.1" stroke-linecap="round"/>
<line x1="100.2" x2="104.10000000000001" y1="64.4" y2="64.4" stroke-width="3.1" stroke-linecap="round"/>
<line x1="100.2" x2="104.10000000000001" y1="61.6" y2="61.6" stroke-width="3.1" stroke-linecap="round"/>
<line x1="100.2" x2="104.10000000000001" y1="59.1" y2="59.1" stroke-width="3.1" stroke-linecap="round"/>
<line x1="100.2" x2="104.10000000000001" y1="56.9" y2="56.9" stroke-width="3.1" stroke-linecap="round"/>
<line x1="99.2" x2="109.7" y1="97.0" y2="97.0" stroke-width="2.4"/>
<line x1="100.2" x2="104.10000000000001" y1="127.0" y2="127.0" stroke-width="2.5" stroke-linecap="round"/>
<line x1="100.2" x2="104.10000000000001" y1="119.5" y2="119.5" stroke-width="2.5" stroke-linecap="round"/>
<line x1="100.2" x2="104.10000000000001" y1="114.2" y2="114.2" stroke-width="2.5" stroke-linecap="round"/>
<line x1="100.2" x2="104.10000000000001" y1="110.1" y2="110.1" stroke-width="3.1" stroke-linecap="round"/>
<line x1="100.2" x2="104.10000000000001" y1="106.8" y2="106.8" stroke-width="3.1" stroke-linecap="round"/>
<line x1="100.2" x2="104.10000000000001" y1="103.9" y2="103.9" stroke-width="3.1" stroke-linecap="round"/>
<line x1="100.2" x2="104.10000000000001" y1="101.5" y2="101.5" stroke-width="3.1" stroke-linecap="round"/>
<line x1="100.2" x2="104.10000000000001" y1="99.3" y2="99.3" stroke-width="3.1" stroke-linecap="round"/>
<line x1="99.2" x2="109.7" y1="139.4" y2="139.4" stroke-width="2.4"/>
<line x1="100.2" x2="104.10000000000001" y1="169.4" y2="169.4" stroke-width="2.5" stroke-linecap="round"/>
<line x1="100.2" x2="104.10000000000001" y1="161.9" y2="161.9" stroke-width="2.5" stroke-linecap="round"/>
<line x1="100.2" x2="104.10000000000001" y1="156.6" y2="156.6" stroke-width="2.5" stroke-linecap="round"/>
<line x1="100.2" x2="104.10000000000001" y1="152.5" y2="152.5" stroke-width="3.1" stroke-linecap="round"/>
<line x1="100.2" x2="104.10000000000001" y1="149.2" y2="149.2" stroke-width="3.1" stroke-linecap="round"/>
<line x1="100.2" x2="104.10000000000001" y1="146.3" y2="146.3" stroke-width="3.1" stroke-linecap="round"/>
<line x1="100.2" x2="104.10000000000001" y1="143.9" y2="143.9" stroke-width="3.1" stroke-linecap="round"/>
<line x1="100.2" x2="104.10000000000001" y1="141.7" y2="141.7" stroke-width="3.1" stroke-linecap="round"/>
<line x1="99.2" x2="109.7" y1="181.8" y2="181.8" stroke-width="2.4"/>
<line x1="100.2" x2="104.10000000000001" y1="211.8" y2="211.8" stroke-width="2.5" stroke-linecap="round"/>
<line x1="100.2" x2="104.10000000000001" y1="204.3" y2="204.3" stroke-width="2.5" stroke-linecap="round"/>
<line x1="100.2" x2="104.10000000000001" y1="199.0" y2="199.0" stroke-width="2.5" stroke-linecap="round"/>
<line x1="100.2" x2="104.10000000000001" y1="194.9" y2="194.9" stroke-width="3.1" stroke-linecap="round"/>
<line x1="100.2" x2="104.10000000000001" y1="191.6" y2="191.6" stroke-width="3.1" stroke-linecap="round"/>
<line x1="100.2" x2="104.10000000000001" y1="188.7" y2="188.7" stroke-width="3.1" stroke-linecap="round"/>
<line x1="100.2" x2="104.10000000000001" y1="186.3" y2="186.3" stroke-width="3.1" stroke-linecap="round"/>
<line x1="100.2" x2="104.10000000000001" y1="184.1" y2="184.1" stroke-width="3.1" stroke-linecap="round"/>
<line x1="99.2" x2="109.7" y1="224.1" y2="224.1" stroke-width="2.4"/>
<line x1="100.2" x2="104.10000000000001" y1="254.2" y2="254.2" stroke-width="2.5" stroke-linecap="round"/>
<line x1="100.2" x2="104.10000000000001" y1="246.7" y2="246.7" stroke-width="2.5" stroke-linecap="round"/>
<line x1="100.2" x2="104.10000000000001" y1="241.4" y2="241.4" stroke-width="2.5" stroke-linecap="round"/>
<line x1="100.2" x2="104.10000000000001" y1="237.3" y2="237.3" stroke-width="3.1" stroke-linecap="round"/>
<line x1="100.2" x2="104.10000000000001" y1="233.9" y2="233.9" stroke-width="3.1" stroke-linecap="round"/>
<line x1="100.2" x2="104.10000000000001" y1="231.1" y2="231.1" stroke-width="3.1" stroke-linecap="round"/>
<line x1="100.2" x2="104.10000000000001" y1="228.6" y2="228.6" stroke-width="3.1" stroke-linecap="round"/>
<line x1="100.2" x2="104.10000000000001" y1="226.5" y2="226.5" stroke-width="3.1" stroke-linecap="round"/>
<line x1="99.2" x2="109.7" y1="266.5" y2="266.5" stroke-width="2.4"/>
<line x1="100.2" x2="104.10000000000001" y1="296.6" y2="296.6" stroke-width="2.5" stroke-linecap="round"/>
<line x1="100.2" x2="104.10000000000001" y1="289.1" y2="289.1" stroke-width="2.5" stroke-linecap="round"/>
<line x1="100.2" x2="104.10000000000001" y1="283.8" y2="283.8" stroke-width="2.5" stroke-linecap="round"/>
<line x1="100.2" x2="104.10000000000001" y1="279.7" y2="279.7" stroke-width="3.1" stroke-linecap="round"/>
<line x1="100.2" x2="104.10000000000001" y1="276.3" y2="276.3" stroke-width="3.1" stroke-linecap="round"/>
<line x1="100.2" x2="104.10000000000001" y1="273.5" y2="273.5" stroke-width="3.1" stroke-linecap="round"/>
<line x1="100.2" x2="104.10000000000001" y1="271.0" y2="271.0" stroke-width="3.1" stroke-linecap="round"/>
<line x1="100.2" x2="104.10000000000001" y1="268.9" y2="268.9" stroke-width="3.1" stroke-linecap="round"/>
<line x1="99.2" x2="109.7" y1="308.9" y2="308.9" stroke-width="2.4"/>
<line x1="100.2" x2="104.10000000000001" y1="338.9" y2="338.9" stroke-width="2.5" stroke-linecap="round"/>
<line x1="100.2" x2="104.10000000000001" y1="331.5" y2="331.5" stroke-width="2.5" stroke-linecap="round"/>
<line x1="100.2" x2="104.10000000000001" y1="326.2" y2="326.2" stroke-width="2.5" stroke-linecap="round"/>
<line x1="100.2" x2="104.10000000000001" y1="322.1" y2="322.1" stroke-width="3.1" stroke-linecap="round"/>
<line x1="100.2" x2="104.10000000000001" y1="318.7" y2="318.7" stroke-width="3.1" stroke-linecap="round"/>
<line x1="100.2" x2="104.10000000000001" y1="315.9" y2="315.9" stroke-width="3.1" stroke-linecap="round"/>
<line x1="100.2" x2="104.10000000000001" y1="313.4" y2="313.4" stroke-width="3.1" stroke-linecap="round"/>
<line x1="100.2" x2="104.10000000000001" y1="311.3" y2="311.3" stroke-width="3.1" stroke-linecap="round"/>
<line x1="99.2" x2="109.7" y1="351.3" y2="351.3" stroke-width="2.4"/>
<line x1="99.2" x2="99.2" y1="351.3" y2="342.3" stroke-width="1.8"/>
<line x1="139.9" x2="139.9" y1="351.3" y2="346.3" stroke-width="1.8"/>
<line x1="180.5" x2="180.5" y1="351.3" y2="342.3" stroke-width="1.8"/>
<line x1="221.2" x2="221.2" y1="351.3" y2="346.3" stroke-width="1.8"/>
<line x1="261.8" x2="261.8" y1="351.3" y2="342.3" stroke-width="1.8"/>
<line x1="302.4" x2="302.4" y1="351.3" y2="346.3" stroke-width="1.8"/>
<line x1="343.1" x2="343.1" y1="351.3" y2="342.3" stroke-width="1.8"/>
<line x1="383.7" x2="383.7" y1="351.3" y2="346.3" stroke-width="1.8"/>
<line x1="424.4" x2="424.4" y1="351.3" y2="342.3" stroke-width="1.8"/>
<line x1="465.0" x2="465.0" y1="351.3" y2="346.3" stroke-width="1.8"/>
<line x1="505.7" x2="505.7" y1="351.3" y2="342.3" stroke-width="1.8"/>
</g>
<path d="M98.0,12.2H506.9M98.0,351.3H506.9" stroke="#000" stroke-width="3.1" fill="none"/>
<path d="M99.2,12.2V351.3M505.7,12.2V351.3" stroke="#000" stroke-width="2.4" fill="none"/>
<rect x="115.4" y="25.2" width="170.29999999999998" height="94.3" fill="#fff" stroke="#000" stroke-width="2.3"/>
<line x1="124.8" x2="165.6" y1="39.6" y2="39.6" stroke="#000" stroke-width="2.4"/>
<line x1="126.4" x2="164.2" y1="61.7" y2="61.7" stroke="#19b519" stroke-width="3.6" stroke-linecap="round"/>
<line x1="124.8" x2="165.8" y1="83.2" y2="83.2" stroke="#1414a8" stroke-width="3" stroke-dasharray="2.9 1.7"/>
<line x1="126.6" x2="161" y1="105.3" y2="105.3" stroke="#d01818" stroke-width="3.3" stroke-dasharray="3.3 6.9" stroke-linecap="round"/>
<text transform="translate(170.7,46.4) scale(0.945,1)" font-size="18.2" font-weight="bold">Deep</text>
<text transform="translate(170.7,68.7) scale(0.945,1)" font-size="18.2" font-weight="bold">RSEMI 2 <tspan font-weight="normal" dx="1.6" stroke="#000" stroke-width="0.4">μ</tspan><tspan dx="-0.6">m</tspan></text>
<text transform="translate(170.7,90.2) scale(0.945,1)" font-size="18.2" font-weight="bold">RSEMI 5 <tspan font-weight="normal" dx="1.6" stroke="#000" stroke-width="0.4">μ</tspan><tspan dx="-0.6">m</tspan></text>
<text transform="translate(170.7,112.2) scale(0.945,1)" font-size="18.2" font-weight="bold">RSEMI 10 <tspan font-weight="normal" dx="1.6" stroke="#000" stroke-width="0.4">μ</tspan><tspan dx="-0.6">m</tspan></text>
<text transform="translate(88.8,21.4) scale(0.95,1)" font-size="22.6" text-anchor="end" stroke="#000" stroke-width="0.9">10<tspan font-size="13.6" dy="-11.8">0</tspan></text>
<text transform="translate(88.8,63.8) scale(0.95,1)" font-size="22.6" text-anchor="end" stroke="#000" stroke-width="0.9">10<tspan font-size="13.6" dy="-11.8">-1</tspan></text>
<text transform="translate(88.8,106.2) scale(0.95,1)" font-size="22.6" text-anchor="end" stroke="#000" stroke-width="0.9">10<tspan font-size="13.6" dy="-11.8">-2</tspan></text>
<text transform="translate(88.8,148.6) scale(0.95,1)" font-size="22.6" text-anchor="end" stroke="#000" stroke-width="0.9">10<tspan font-size="13.6" dy="-11.8">-3</tspan></text>
<text transform="translate(88.8,190.9) scale(0.95,1)" font-size="22.6" text-anchor="end" stroke="#000" stroke-width="0.9">10<tspan font-size="13.6" dy="-11.8">-4</tspan></text>
<text transform="translate(88.8,233.3) scale(0.95,1)" font-size="22.6" text-anchor="end" stroke="#000" stroke-width="0.9">10<tspan font-size="13.6" dy="-11.8">-5</tspan></text>
<text transform="translate(88.8,275.7) scale(0.95,1)" font-size="22.6" text-anchor="end" stroke="#000" stroke-width="0.9">10<tspan font-size="13.6" dy="-11.8">-6</tspan></text>
<text transform="translate(88.8,318.1) scale(0.95,1)" font-size="22.6" text-anchor="end" stroke="#000" stroke-width="0.9">10<tspan font-size="13.6" dy="-11.8">-7</tspan></text>
<text transform="translate(88.8,360.5) scale(0.95,1)" font-size="22.6" text-anchor="end" stroke="#000" stroke-width="0.9">10<tspan font-size="13.6" dy="-11.8">-8</tspan></text>
<text transform="translate(99.2,380.1) scale(0.95,1)" font-size="22.6" text-anchor="middle" stroke="#000" stroke-width="0.9">-0.2</text>
<text transform="translate(180.5,380.1) scale(0.95,1)" font-size="22.6" text-anchor="middle" stroke="#000" stroke-width="0.9">0.0</text>
<text transform="translate(261.8,380.1) scale(0.95,1)" font-size="22.6" text-anchor="middle" stroke="#000" stroke-width="0.9">0.2</text>
<text transform="translate(343.1,380.1) scale(0.95,1)" font-size="22.6" text-anchor="middle" stroke="#000" stroke-width="0.9">0.4</text>
<text transform="translate(424.4,380.1) scale(0.95,1)" font-size="22.6" text-anchor="middle" stroke="#000" stroke-width="0.9">0.6</text>
<text transform="translate(505.7,380.1) scale(0.95,1)" font-size="22.6" text-anchor="middle" stroke="#000" stroke-width="0.9">0.8</text>
<text transform="translate(302.6,419.5) scale(0.975,1)" font-size="27.6" text-anchor="middle" stroke="#000" stroke-width="0.8">Voltage (V)</text>
<text transform="translate(26.4,302.2) rotate(-90) scale(0.974,1)" font-size="27.3" stroke="#000" stroke-width="0.9">Current density(A/cm<tspan font-size="15.5" dy="-14.5">2</tspan><tspan dy="14.5">)</tspan></text>
</svg>
</body></html>
